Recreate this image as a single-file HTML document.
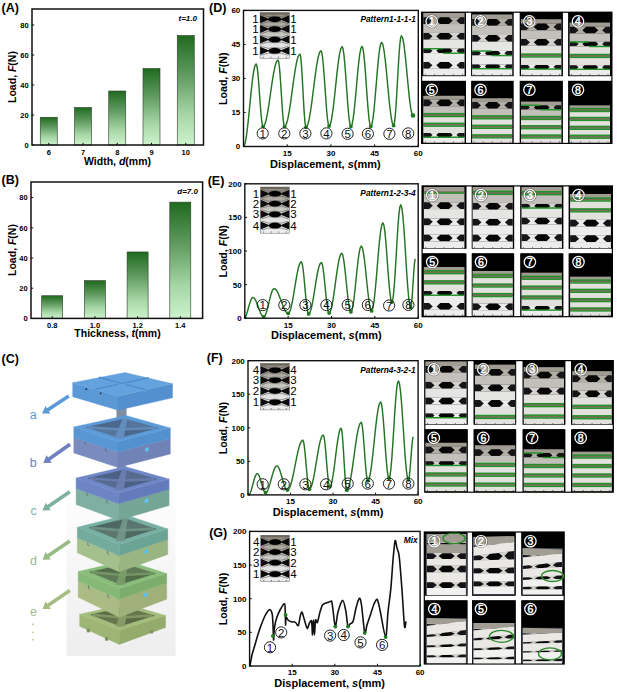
<!DOCTYPE html><html><head><meta charset="utf-8"><style>html,body{margin:0;padding:0;background:#fff;width:617px;height:692px;overflow:hidden}svg{display:block}</style></head><body><svg width="617" height="692" viewBox="0 0 617 692" font-family='"Liberation Sans", sans-serif'>
<defs>
<linearGradient id="bargrad" x1="0" y1="0" x2="0" y2="1">
<stop offset="0" stop-color="#1f6a1f"/><stop offset="0.35" stop-color="#5e995e"/><stop offset="0.72" stop-color="#a6d6a6"/><stop offset="1" stop-color="#cdf3cd"/>
</linearGradient>
<linearGradient id="cbg" x1="0" y1="0" x2="0" y2="1">
<stop offset="0" stop-color="#ffffff"/><stop offset="0.5" stop-color="#f6f6f6"/><stop offset="1" stop-color="#eeeeee"/>
</linearGradient>
</defs>
<rect x="0.00" y="0.00" width="617.00" height="692.00" fill="#fff" />
<rect x="40.25" y="117.25" width="17.00" height="27.75" fill="url(#bargrad)" stroke="#2b3a2b" stroke-width="0.6"/>
<rect x="74.50" y="107.50" width="17.00" height="37.50" fill="url(#bargrad)" stroke="#2b3a2b" stroke-width="0.6"/>
<rect x="108.75" y="91.00" width="17.00" height="54.00" fill="url(#bargrad)" stroke="#2b3a2b" stroke-width="0.6"/>
<rect x="143.00" y="68.50" width="17.00" height="76.50" fill="url(#bargrad)" stroke="#2b3a2b" stroke-width="0.6"/>
<rect x="177.25" y="35.50" width="17.00" height="109.50" fill="url(#bargrad)" stroke="#2b3a2b" stroke-width="0.6"/>
<rect x="32" y="9" width="171.5" height="136" fill="none" stroke="#111" stroke-width="1.5"/>
<line x1="32.00" y1="145.00" x2="34.20" y2="145.00" stroke="#111" stroke-width="1.0"/>
<text x="28.70" y="147.70" font-size="7.5" font-weight="bold" font-style="normal" text-anchor="end" fill="#000" >0</text>
<line x1="32.00" y1="115.00" x2="34.20" y2="115.00" stroke="#111" stroke-width="1.0"/>
<text x="28.70" y="117.70" font-size="7.5" font-weight="bold" font-style="normal" text-anchor="end" fill="#000" >20</text>
<line x1="32.00" y1="85.00" x2="34.20" y2="85.00" stroke="#111" stroke-width="1.0"/>
<text x="28.70" y="87.70" font-size="7.5" font-weight="bold" font-style="normal" text-anchor="end" fill="#000" >40</text>
<line x1="32.00" y1="55.00" x2="34.20" y2="55.00" stroke="#111" stroke-width="1.0"/>
<text x="28.70" y="57.70" font-size="7.5" font-weight="bold" font-style="normal" text-anchor="end" fill="#000" >60</text>
<line x1="32.00" y1="25.00" x2="34.20" y2="25.00" stroke="#111" stroke-width="1.0"/>
<text x="28.70" y="27.70" font-size="7.5" font-weight="bold" font-style="normal" text-anchor="end" fill="#000" >80</text>
<line x1="48.75" y1="145.00" x2="48.75" y2="142.80" stroke="#111" stroke-width="1.0"/>
<text x="48.75" y="154.50" font-size="7.5" font-weight="bold" font-style="normal" text-anchor="middle" fill="#000" >6</text>
<line x1="83.00" y1="145.00" x2="83.00" y2="142.80" stroke="#111" stroke-width="1.0"/>
<text x="83.00" y="154.50" font-size="7.5" font-weight="bold" font-style="normal" text-anchor="middle" fill="#000" >7</text>
<line x1="117.25" y1="145.00" x2="117.25" y2="142.80" stroke="#111" stroke-width="1.0"/>
<text x="117.25" y="154.50" font-size="7.5" font-weight="bold" font-style="normal" text-anchor="middle" fill="#000" >8</text>
<line x1="151.50" y1="145.00" x2="151.50" y2="142.80" stroke="#111" stroke-width="1.0"/>
<text x="151.50" y="154.50" font-size="7.5" font-weight="bold" font-style="normal" text-anchor="middle" fill="#000" >9</text>
<line x1="185.75" y1="145.00" x2="185.75" y2="142.80" stroke="#111" stroke-width="1.0"/>
<text x="185.75" y="154.50" font-size="7.5" font-weight="bold" font-style="normal" text-anchor="middle" fill="#000" >10</text>
<text x="117.50" y="165.00" font-size="10.5" font-weight="bold" font-style="normal" text-anchor="middle" fill="#000" >Width, <tspan font-style="italic">d</tspan>(mm)</text>
<text transform="translate(16.3,77) rotate(-90)" font-size="10.5" font-weight="bold" text-anchor="middle">Load, <tspan font-style="italic">F</tspan>(N)</text>
<text x="197.00" y="20.50" font-size="8" font-weight="bold" font-style="italic" text-anchor="end" fill="#000" >t=1.0</text>
<text x="1.50" y="11.70" font-size="12.5" font-weight="bold" font-style="normal" text-anchor="start" fill="#000" >(A)</text>
<rect x="41.70" y="295.75" width="21.00" height="22.65" fill="url(#bargrad)" stroke="#2b3a2b" stroke-width="0.6"/>
<rect x="84.40" y="280.65" width="21.00" height="37.75" fill="url(#bargrad)" stroke="#2b3a2b" stroke-width="0.6"/>
<rect x="127.10" y="251.96" width="21.00" height="66.44" fill="url(#bargrad)" stroke="#2b3a2b" stroke-width="0.6"/>
<rect x="169.80" y="202.13" width="21.00" height="116.27" fill="url(#bargrad)" stroke="#2b3a2b" stroke-width="0.6"/>
<rect x="31" y="182" width="171.6" height="136.39999999999998" fill="none" stroke="#111" stroke-width="1.5"/>
<line x1="31.00" y1="318.40" x2="33.20" y2="318.40" stroke="#111" stroke-width="1.0"/>
<text x="27.70" y="321.10" font-size="7.5" font-weight="bold" font-style="normal" text-anchor="end" fill="#000" >0</text>
<line x1="31.00" y1="288.20" x2="33.20" y2="288.20" stroke="#111" stroke-width="1.0"/>
<text x="27.70" y="290.90" font-size="7.5" font-weight="bold" font-style="normal" text-anchor="end" fill="#000" >20</text>
<line x1="31.00" y1="258.00" x2="33.20" y2="258.00" stroke="#111" stroke-width="1.0"/>
<text x="27.70" y="260.70" font-size="7.5" font-weight="bold" font-style="normal" text-anchor="end" fill="#000" >40</text>
<line x1="31.00" y1="227.80" x2="33.20" y2="227.80" stroke="#111" stroke-width="1.0"/>
<text x="27.70" y="230.50" font-size="7.5" font-weight="bold" font-style="normal" text-anchor="end" fill="#000" >60</text>
<line x1="31.00" y1="197.60" x2="33.20" y2="197.60" stroke="#111" stroke-width="1.0"/>
<text x="27.70" y="200.30" font-size="7.5" font-weight="bold" font-style="normal" text-anchor="end" fill="#000" >80</text>
<line x1="52.20" y1="318.40" x2="52.20" y2="316.20" stroke="#111" stroke-width="1.0"/>
<text x="52.20" y="328.00" font-size="7.5" font-weight="bold" font-style="normal" text-anchor="middle" fill="#000" >0.8</text>
<line x1="94.90" y1="318.40" x2="94.90" y2="316.20" stroke="#111" stroke-width="1.0"/>
<text x="94.90" y="328.00" font-size="7.5" font-weight="bold" font-style="normal" text-anchor="middle" fill="#000" >1.0</text>
<line x1="137.60" y1="318.40" x2="137.60" y2="316.20" stroke="#111" stroke-width="1.0"/>
<text x="137.60" y="328.00" font-size="7.5" font-weight="bold" font-style="normal" text-anchor="middle" fill="#000" >1.2</text>
<line x1="180.30" y1="318.40" x2="180.30" y2="316.20" stroke="#111" stroke-width="1.0"/>
<text x="180.30" y="328.00" font-size="7.5" font-weight="bold" font-style="normal" text-anchor="middle" fill="#000" >1.4</text>
<text x="117.50" y="336.80" font-size="10.5" font-weight="bold" font-style="normal" text-anchor="middle" fill="#000" >Thickness, <tspan font-style="italic">t</tspan>(mm)</text>
<text transform="translate(16.3,250) rotate(-90)" font-size="10.5" font-weight="bold" text-anchor="middle">Load, <tspan font-style="italic">F</tspan>(N)</text>
<text x="198.00" y="194.00" font-size="8" font-weight="bold" font-style="italic" text-anchor="end" fill="#000" >d=7.0</text>
<text x="1.50" y="184.40" font-size="12.5" font-weight="bold" font-style="normal" text-anchor="start" fill="#000" >(B)</text>
<path d="M243.50,146.50 L244.76,144.48 L246.02,138.61 L247.28,129.48 L248.54,117.96 L249.80,105.20 L251.06,92.44 L252.32,80.92 L253.58,71.79 L254.84,65.92 L256.10,63.90 L256.80,65.43 L257.50,69.89 L258.20,76.82 L258.90,85.56 L259.60,95.25 L260.30,104.94 L261.00,113.68 L261.70,120.61 L262.40,125.07 L263.10,126.60 L264.59,124.97 L266.08,120.23 L267.57,112.85 L269.06,103.56 L270.55,93.25 L272.04,82.94 L273.53,73.65 L275.02,66.27 L276.51,61.53 L278.00,59.90 L278.66,61.53 L279.32,66.27 L279.98,73.65 L280.64,82.94 L281.30,93.25 L281.96,103.56 L282.62,112.85 L283.28,120.23 L283.94,124.97 L284.60,126.60 L286.13,124.83 L287.66,119.68 L289.19,111.66 L290.72,101.55 L292.25,90.35 L293.78,79.15 L295.31,69.04 L296.84,61.02 L298.37,55.87 L299.90,54.10 L300.51,55.89 L301.12,61.09 L301.73,69.19 L302.34,79.39 L302.95,90.70 L303.56,102.01 L304.17,112.21 L304.78,120.31 L305.39,125.51 L306.00,127.30 L307.50,125.43 L309.00,119.99 L310.50,111.51 L312.00,100.84 L313.50,89.00 L315.00,77.16 L316.50,66.49 L318.00,58.01 L319.50,52.57 L321.00,50.70 L321.81,52.55 L322.62,57.90 L323.43,66.24 L324.24,76.75 L325.05,88.40 L325.86,100.05 L326.67,110.56 L327.48,118.90 L328.29,124.25 L329.10,126.10 L330.40,124.15 L331.70,118.51 L333.00,109.71 L334.30,98.63 L335.60,86.35 L336.90,74.07 L338.20,62.99 L339.50,54.19 L340.80,48.55 L342.10,46.60 L342.98,48.56 L343.86,54.24 L344.74,63.09 L345.62,74.24 L346.50,86.60 L347.38,98.96 L348.26,110.11 L349.14,118.96 L350.02,124.64 L350.90,126.60 L352.01,124.63 L353.12,118.93 L354.23,110.05 L355.34,98.86 L356.45,86.45 L357.56,74.04 L358.67,62.85 L359.78,53.97 L360.89,48.27 L362.00,46.30 L362.88,48.27 L363.76,53.97 L364.64,62.85 L365.52,74.04 L366.40,86.45 L367.28,98.86 L368.16,110.05 L369.04,118.93 L369.92,124.63 L370.80,126.60 L371.88,124.54 L372.96,118.56 L374.04,109.25 L375.12,97.51 L376.20,84.50 L377.28,71.49 L378.36,59.75 L379.44,50.44 L380.52,44.46 L381.60,42.40 L382.80,44.43 L384.00,50.34 L385.20,59.53 L386.40,71.11 L387.60,83.95 L388.80,96.79 L390.00,108.37 L391.20,117.56 L392.40,123.47 L393.60,125.50 L394.38,123.30 L395.16,116.93 L395.94,107.01 L396.72,94.51 L397.50,80.65 L398.28,66.79 L399.06,54.29 L399.84,44.37 L400.62,38.00 L401.40,35.80 L402.56,37.75 L403.72,43.41 L404.88,52.23 L406.04,63.34 L407.20,75.65 L408.36,87.96 L409.52,99.07 L410.68,107.89 L411.84,113.55 L413.00,115.50" fill="none" stroke="#237523" stroke-width="1.45" stroke-linejoin="round"/>
<circle cx="263.10" cy="126.60" r="1.9" fill="#1f7a1f"/>
<circle cx="284.60" cy="126.60" r="1.9" fill="#1f7a1f"/>
<circle cx="306.00" cy="127.30" r="1.9" fill="#1f7a1f"/>
<circle cx="329.10" cy="126.10" r="1.9" fill="#1f7a1f"/>
<circle cx="350.90" cy="126.60" r="1.9" fill="#1f7a1f"/>
<circle cx="370.80" cy="126.60" r="1.9" fill="#1f7a1f"/>
<circle cx="393.60" cy="125.50" r="1.9" fill="#1f7a1f"/>
<circle cx="413.00" cy="115.50" r="2.3" fill="#1f7a1f"/>
<circle cx="262.70" cy="133.40" r="5.6" fill="none" stroke="#222" stroke-width="1.0"/>
<text x="262.70" y="137.60" font-size="11.5" font-weight="normal" font-style="normal" text-anchor="middle" fill="#111" >1</text>
<circle cx="284.30" cy="133.40" r="5.6" fill="none" stroke="#222" stroke-width="1.0"/>
<text x="284.30" y="137.60" font-size="11.5" font-weight="normal" font-style="normal" text-anchor="middle" fill="#111" >2</text>
<circle cx="305.40" cy="133.40" r="5.6" fill="none" stroke="#222" stroke-width="1.0"/>
<text x="305.40" y="137.60" font-size="11.5" font-weight="normal" font-style="normal" text-anchor="middle" fill="#111" >3</text>
<circle cx="326.40" cy="133.40" r="5.6" fill="none" stroke="#222" stroke-width="1.0"/>
<text x="326.40" y="137.60" font-size="11.5" font-weight="normal" font-style="normal" text-anchor="middle" fill="#111" >4</text>
<circle cx="347.60" cy="133.80" r="5.6" fill="none" stroke="#222" stroke-width="1.0"/>
<text x="347.60" y="138.00" font-size="11.5" font-weight="normal" font-style="normal" text-anchor="middle" fill="#111" >5</text>
<circle cx="367.90" cy="133.80" r="5.6" fill="none" stroke="#222" stroke-width="1.0"/>
<text x="367.90" y="138.00" font-size="11.5" font-weight="normal" font-style="normal" text-anchor="middle" fill="#111" >6</text>
<circle cx="389.40" cy="133.80" r="5.6" fill="none" stroke="#222" stroke-width="1.0"/>
<text x="389.40" y="138.00" font-size="11.5" font-weight="normal" font-style="normal" text-anchor="middle" fill="#111" >7</text>
<circle cx="408.20" cy="133.40" r="5.6" fill="none" stroke="#222" stroke-width="1.0"/>
<text x="408.20" y="137.60" font-size="11.5" font-weight="normal" font-style="normal" text-anchor="middle" fill="#111" >8</text>
<rect x="243.5" y="10.4" width="174.8" height="136.1" fill="none" stroke="#111" stroke-width="1.4"/>
<line x1="243.50" y1="146.50" x2="245.70" y2="146.50" stroke="#111" stroke-width="1.0"/>
<text x="240.30" y="149.40" font-size="8" font-weight="bold" font-style="normal" text-anchor="end" fill="#000" >0</text>
<line x1="243.50" y1="112.47" x2="245.70" y2="112.47" stroke="#111" stroke-width="1.0"/>
<text x="240.30" y="115.38" font-size="8" font-weight="bold" font-style="normal" text-anchor="end" fill="#000" >15</text>
<line x1="243.50" y1="78.45" x2="245.70" y2="78.45" stroke="#111" stroke-width="1.0"/>
<text x="240.30" y="81.35" font-size="8" font-weight="bold" font-style="normal" text-anchor="end" fill="#000" >30</text>
<line x1="243.50" y1="44.43" x2="245.70" y2="44.43" stroke="#111" stroke-width="1.0"/>
<text x="240.30" y="47.33" font-size="8" font-weight="bold" font-style="normal" text-anchor="end" fill="#000" >45</text>
<line x1="243.50" y1="10.40" x2="245.70" y2="10.40" stroke="#111" stroke-width="1.0"/>
<text x="240.30" y="13.30" font-size="8" font-weight="bold" font-style="normal" text-anchor="end" fill="#000" >60</text>
<line x1="243.50" y1="146.50" x2="243.50" y2="144.30" stroke="#111" stroke-width="1.0"/>
<line x1="287.20" y1="146.50" x2="287.20" y2="144.30" stroke="#111" stroke-width="1.0"/>
<text x="287.20" y="155.80" font-size="8" font-weight="bold" font-style="normal" text-anchor="middle" fill="#000" >15</text>
<line x1="330.90" y1="146.50" x2="330.90" y2="144.30" stroke="#111" stroke-width="1.0"/>
<text x="330.90" y="155.80" font-size="8" font-weight="bold" font-style="normal" text-anchor="middle" fill="#000" >30</text>
<line x1="374.60" y1="146.50" x2="374.60" y2="144.30" stroke="#111" stroke-width="1.0"/>
<text x="374.60" y="155.80" font-size="8" font-weight="bold" font-style="normal" text-anchor="middle" fill="#000" >45</text>
<line x1="418.30" y1="146.50" x2="418.30" y2="144.30" stroke="#111" stroke-width="1.0"/>
<text x="418.30" y="155.80" font-size="8" font-weight="bold" font-style="normal" text-anchor="middle" fill="#000" >60</text>
<text x="325.40" y="167.60" font-size="11" font-weight="bold" font-style="normal" text-anchor="middle" fill="#000" >Displacement, <tspan font-style="italic">s</tspan>(mm)</text>
<text transform="translate(226.5,78.75) rotate(-90)" font-size="10.6" font-weight="bold" text-anchor="middle">Load, <tspan font-style="italic">F</tspan>(N)</text>
<text x="415.80" y="22.20" font-size="8.3" font-weight="bold" font-style="italic" text-anchor="end" fill="#000" >Pattern1-1-1-1</text>
<text x="209.00" y="11.70" font-size="12.5" font-weight="bold" font-style="normal" text-anchor="start" fill="#000" >(D)</text>
<defs><linearGradient id="ig12" x1="0" y1="0" x2="0" y2="1"><stop offset="0" stop-color="#8e887c"/><stop offset="0.35" stop-color="#b9b6ae"/><stop offset="0.7" stop-color="#e2e2e2"/><stop offset="1" stop-color="#efefef"/></linearGradient></defs>
<rect x="260.10" y="12.60" width="29.20" height="45.70" fill="url(#ig12)" stroke="#666" stroke-width="0.5"/>
<rect x="260.10" y="12.60" width="29.20" height="2.00" fill="#6e685c" />
<polygon points="260.10,15.23 269.60,19.23 260.10,23.23" fill="#0a0a0a" />
<polygon points="289.30,15.23 279.80,19.23 289.30,23.23" fill="#0a0a0a" />
<ellipse cx="274.70" cy="19.23" rx="6.42" ry="3.0" fill="#000"/>
<path d="M261.10,14.73 Q268.28,18.23 274.70,16.03 Q281.12,18.23 288.30,14.73 M261.10,23.73 Q268.28,20.23 274.70,22.43 Q281.12,20.23 288.30,23.73" stroke="#555" stroke-width="0.6" fill="none"/>
<polygon points="260.10,25.05 269.60,29.05 260.10,33.05" fill="#0a0a0a" />
<polygon points="289.30,25.05 279.80,29.05 289.30,33.05" fill="#0a0a0a" />
<ellipse cx="274.70" cy="29.05" rx="6.42" ry="3.0" fill="#000"/>
<path d="M261.10,24.55 Q268.28,28.05 274.70,25.85 Q281.12,28.05 288.30,24.55 M261.10,33.55 Q268.28,30.05 274.70,32.25 Q281.12,30.05 288.30,33.55" stroke="#555" stroke-width="0.6" fill="none"/>
<polygon points="260.10,35.56 269.60,39.56 260.10,43.56" fill="#0a0a0a" />
<polygon points="289.30,35.56 279.80,39.56 289.30,43.56" fill="#0a0a0a" />
<ellipse cx="274.70" cy="39.56" rx="6.42" ry="3.0" fill="#000"/>
<path d="M261.10,35.06 Q268.28,38.56 274.70,36.36 Q281.12,38.56 288.30,35.06 M261.10,44.06 Q268.28,40.56 274.70,42.76 Q281.12,40.56 288.30,44.06" stroke="#555" stroke-width="0.6" fill="none"/>
<polygon points="260.10,46.76 269.60,50.76 260.10,54.76" fill="#0a0a0a" />
<polygon points="289.30,46.76 279.80,50.76 289.30,54.76" fill="#0a0a0a" />
<ellipse cx="274.70" cy="50.76" rx="6.42" ry="3.0" fill="#000"/>
<path d="M261.10,46.26 Q268.28,49.76 274.70,47.56 Q281.12,49.76 288.30,46.26 M261.10,55.26 Q268.28,51.76 274.70,53.96 Q281.12,51.76 288.30,55.26" stroke="#555" stroke-width="0.6" fill="none"/>
<rect x="262.60" y="56.70" width="1.00" height="1.00" fill="#555" />
<rect x="270.33" y="56.70" width="1.00" height="1.00" fill="#555" />
<rect x="278.07" y="56.70" width="1.00" height="1.00" fill="#555" />
<rect x="285.80" y="56.70" width="1.00" height="1.00" fill="#555" />
<text x="258.70" y="23.33" font-size="11.5" font-weight="normal" font-style="normal" text-anchor="end" fill="#000" >1</text>
<text x="290.30" y="23.33" font-size="11.5" font-weight="normal" font-style="normal" text-anchor="start" fill="#000" >1</text>
<text x="258.70" y="33.15" font-size="11.5" font-weight="normal" font-style="normal" text-anchor="end" fill="#000" >1</text>
<text x="290.30" y="33.15" font-size="11.5" font-weight="normal" font-style="normal" text-anchor="start" fill="#000" >1</text>
<text x="258.70" y="43.66" font-size="11.5" font-weight="normal" font-style="normal" text-anchor="end" fill="#000" >1</text>
<text x="290.30" y="43.66" font-size="11.5" font-weight="normal" font-style="normal" text-anchor="start" fill="#000" >1</text>
<text x="258.70" y="54.86" font-size="11.5" font-weight="normal" font-style="normal" text-anchor="end" fill="#000" >1</text>
<text x="290.30" y="54.86" font-size="11.5" font-weight="normal" font-style="normal" text-anchor="start" fill="#000" >1</text>
<path d="M244.00,318.20 L244.89,317.69 L245.78,316.21 L246.67,313.91 L247.56,311.01 L248.45,307.80 L249.34,304.59 L250.23,301.69 L251.12,299.39 L252.01,297.91 L252.90,297.40 L253.98,297.87 L255.06,299.25 L256.14,301.40 L257.22,304.10 L258.30,307.10 L259.38,310.10 L260.46,312.80 L261.54,314.95 L262.62,316.33 L263.70,316.80 L264.74,316.11 L265.78,314.11 L266.82,310.99 L267.86,307.06 L268.90,302.70 L269.94,298.34 L270.98,294.41 L272.02,291.29 L273.06,289.29 L274.10,288.60 L275.51,289.21 L276.92,290.97 L278.33,293.71 L279.74,297.17 L281.15,301.00 L282.56,304.83 L283.97,308.29 L285.38,311.03 L286.79,312.79 L288.20,313.40 L289.51,312.14 L290.82,308.47 L292.13,302.76 L293.44,295.57 L294.75,287.60 L296.06,279.63 L297.37,272.44 L298.68,266.73 L299.99,263.06 L301.30,261.80 L302.03,263.07 L302.76,266.78 L303.49,272.54 L304.22,279.80 L304.95,287.85 L305.68,295.90 L306.41,303.16 L307.14,308.92 L307.87,312.63 L308.60,313.90 L309.87,312.64 L311.14,308.98 L312.41,303.29 L313.68,296.11 L314.95,288.15 L316.22,280.19 L317.49,273.01 L318.76,267.32 L320.03,263.66 L321.30,262.40 L322.08,263.64 L322.86,267.24 L323.64,272.85 L324.42,279.92 L325.20,287.75 L325.98,295.58 L326.76,302.65 L327.54,308.26 L328.32,311.86 L329.10,313.10 L330.36,311.63 L331.62,307.38 L332.88,300.75 L334.14,292.41 L335.40,283.15 L336.66,273.89 L337.92,265.55 L339.18,258.92 L340.44,254.67 L341.70,253.20 L342.62,254.64 L343.54,258.81 L344.46,265.30 L345.38,273.48 L346.30,282.55 L347.22,291.62 L348.14,299.80 L349.06,306.29 L349.98,310.46 L350.90,311.90 L351.94,310.29 L352.98,305.62 L354.02,298.34 L355.06,289.17 L356.10,279.00 L357.14,268.83 L358.18,259.66 L359.22,252.38 L360.26,247.71 L361.30,246.10 L362.33,247.69 L363.36,252.29 L364.39,259.46 L365.42,268.49 L366.45,278.50 L367.48,288.51 L368.51,297.54 L369.54,304.71 L370.57,309.31 L371.60,310.90 L372.73,308.74 L373.86,302.49 L374.99,292.74 L376.12,280.46 L377.25,266.85 L378.38,253.24 L379.51,240.96 L380.64,231.21 L381.77,224.96 L382.90,222.80 L383.80,224.74 L384.70,230.37 L385.60,239.14 L386.50,250.20 L387.40,262.45 L388.30,274.70 L389.20,285.76 L390.10,294.53 L391.00,300.16 L391.90,302.10 L392.78,299.72 L393.66,292.81 L394.54,282.05 L395.42,268.48 L396.30,253.45 L397.18,238.42 L398.06,224.85 L398.94,214.09 L399.82,207.18 L400.70,204.80 L401.70,207.32 L402.70,214.63 L403.70,226.01 L404.70,240.35 L405.70,256.25 L406.70,272.15 L407.70,286.49 L408.70,297.87 L409.70,305.18 L410.70,307.70 L411.17,306.51 L411.64,303.04 L412.11,297.64 L412.58,290.84 L413.05,283.30 L413.52,275.76 L413.99,268.96 L414.46,263.56 L414.93,260.09 L415.40,258.90" fill="none" stroke="#237523" stroke-width="1.45" stroke-linejoin="round"/>
<circle cx="263.70" cy="316.80" r="1.9" fill="#1f7a1f"/>
<circle cx="288.20" cy="313.40" r="1.9" fill="#1f7a1f"/>
<circle cx="308.60" cy="313.90" r="1.9" fill="#1f7a1f"/>
<circle cx="329.10" cy="313.10" r="1.9" fill="#1f7a1f"/>
<circle cx="350.90" cy="311.90" r="1.9" fill="#1f7a1f"/>
<circle cx="371.60" cy="310.90" r="1.9" fill="#1f7a1f"/>
<circle cx="391.90" cy="302.10" r="1.9" fill="#1f7a1f"/>
<circle cx="410.70" cy="307.70" r="1.9" fill="#1f7a1f"/>
<circle cx="262.70" cy="305.10" r="5.6" fill="none" stroke="#222" stroke-width="1.0"/>
<text x="262.70" y="309.30" font-size="11.5" font-weight="normal" font-style="normal" text-anchor="middle" fill="#111" >1</text>
<circle cx="284.30" cy="305.10" r="5.6" fill="none" stroke="#222" stroke-width="1.0"/>
<text x="284.30" y="309.30" font-size="11.5" font-weight="normal" font-style="normal" text-anchor="middle" fill="#111" >2</text>
<circle cx="305.40" cy="305.10" r="5.6" fill="none" stroke="#222" stroke-width="1.0"/>
<text x="305.40" y="309.30" font-size="11.5" font-weight="normal" font-style="normal" text-anchor="middle" fill="#111" >3</text>
<circle cx="326.40" cy="305.10" r="5.6" fill="none" stroke="#222" stroke-width="1.0"/>
<text x="326.40" y="309.30" font-size="11.5" font-weight="normal" font-style="normal" text-anchor="middle" fill="#111" >4</text>
<circle cx="347.70" cy="304.90" r="5.6" fill="none" stroke="#222" stroke-width="1.0"/>
<text x="347.70" y="309.10" font-size="11.5" font-weight="normal" font-style="normal" text-anchor="middle" fill="#111" >5</text>
<circle cx="367.80" cy="304.90" r="5.6" fill="none" stroke="#222" stroke-width="1.0"/>
<text x="367.80" y="309.10" font-size="11.5" font-weight="normal" font-style="normal" text-anchor="middle" fill="#111" >6</text>
<circle cx="389.10" cy="305.50" r="5.6" fill="none" stroke="#222" stroke-width="1.0"/>
<text x="389.10" y="309.70" font-size="11.5" font-weight="normal" font-style="normal" text-anchor="middle" fill="#111" >7</text>
<circle cx="408.40" cy="304.90" r="5.6" fill="none" stroke="#222" stroke-width="1.0"/>
<text x="408.40" y="309.10" font-size="11.5" font-weight="normal" font-style="normal" text-anchor="middle" fill="#111" >8</text>
<rect x="244.8" y="183.8" width="173.39999999999998" height="134.39999999999998" fill="none" stroke="#111" stroke-width="1.4"/>
<line x1="244.80" y1="318.20" x2="247.00" y2="318.20" stroke="#111" stroke-width="1.0"/>
<text x="241.60" y="321.10" font-size="8" font-weight="bold" font-style="normal" text-anchor="end" fill="#000" >0</text>
<line x1="244.80" y1="284.60" x2="247.00" y2="284.60" stroke="#111" stroke-width="1.0"/>
<text x="241.60" y="287.50" font-size="8" font-weight="bold" font-style="normal" text-anchor="end" fill="#000" >50</text>
<line x1="244.80" y1="251.00" x2="247.00" y2="251.00" stroke="#111" stroke-width="1.0"/>
<text x="241.60" y="253.90" font-size="8" font-weight="bold" font-style="normal" text-anchor="end" fill="#000" >100</text>
<line x1="244.80" y1="217.40" x2="247.00" y2="217.40" stroke="#111" stroke-width="1.0"/>
<text x="241.60" y="220.30" font-size="8" font-weight="bold" font-style="normal" text-anchor="end" fill="#000" >150</text>
<line x1="244.80" y1="183.80" x2="247.00" y2="183.80" stroke="#111" stroke-width="1.0"/>
<text x="241.60" y="186.70" font-size="8" font-weight="bold" font-style="normal" text-anchor="end" fill="#000" >200</text>
<line x1="244.80" y1="318.20" x2="244.80" y2="316.00" stroke="#111" stroke-width="1.0"/>
<line x1="288.15" y1="318.20" x2="288.15" y2="316.00" stroke="#111" stroke-width="1.0"/>
<text x="288.15" y="327.50" font-size="8" font-weight="bold" font-style="normal" text-anchor="middle" fill="#000" >15</text>
<line x1="331.50" y1="318.20" x2="331.50" y2="316.00" stroke="#111" stroke-width="1.0"/>
<text x="331.50" y="327.50" font-size="8" font-weight="bold" font-style="normal" text-anchor="middle" fill="#000" >30</text>
<line x1="374.85" y1="318.20" x2="374.85" y2="316.00" stroke="#111" stroke-width="1.0"/>
<text x="374.85" y="327.50" font-size="8" font-weight="bold" font-style="normal" text-anchor="middle" fill="#000" >45</text>
<line x1="418.20" y1="318.20" x2="418.20" y2="316.00" stroke="#111" stroke-width="1.0"/>
<text x="418.20" y="327.50" font-size="8" font-weight="bold" font-style="normal" text-anchor="middle" fill="#000" >60</text>
<text x="326.30" y="339.30" font-size="11" font-weight="bold" font-style="normal" text-anchor="middle" fill="#000" >Displacement, <tspan font-style="italic">s</tspan>(mm)</text>
<text transform="translate(226.5,251.3) rotate(-90)" font-size="10.6" font-weight="bold" text-anchor="middle">Load, <tspan font-style="italic">F</tspan>(N)</text>
<text x="415.70" y="195.60" font-size="8.3" font-weight="bold" font-style="italic" text-anchor="end" fill="#000" >Pattern1-2-3-4</text>
<text x="207.70" y="184.90" font-size="12.5" font-weight="bold" font-style="normal" text-anchor="start" fill="#000" >(E)</text>
<defs><linearGradient id="ig187" x1="0" y1="0" x2="0" y2="1"><stop offset="0" stop-color="#8e887c"/><stop offset="0.35" stop-color="#b9b6ae"/><stop offset="0.7" stop-color="#e2e2e2"/><stop offset="1" stop-color="#efefef"/></linearGradient></defs>
<rect x="260.60" y="187.00" width="28.70" height="46.20" fill="url(#ig187)" stroke="#666" stroke-width="0.5"/>
<rect x="260.60" y="187.00" width="28.70" height="2.00" fill="#6e685c" />
<polygon points="260.60,189.70 270.10,193.70 260.60,197.70" fill="#0a0a0a" />
<polygon points="289.30,189.70 279.80,193.70 289.30,197.70" fill="#0a0a0a" />
<ellipse cx="274.95" cy="193.70" rx="6.31" ry="3.0" fill="#000"/>
<path d="M261.60,189.20 Q268.64,192.70 274.95,190.50 Q281.26,192.70 288.30,189.20 M261.60,198.20 Q268.64,194.70 274.95,196.90 Q281.26,194.70 288.30,198.20" stroke="#555" stroke-width="0.6" fill="none"/>
<polygon points="260.60,199.63 270.10,203.63 260.60,207.63" fill="#0a0a0a" />
<polygon points="289.30,199.63 279.80,203.63 289.30,207.63" fill="#0a0a0a" />
<ellipse cx="274.95" cy="203.63" rx="6.31" ry="3.0" fill="#000"/>
<path d="M261.60,199.13 Q268.64,202.63 274.95,200.43 Q281.26,202.63 288.30,199.13 M261.60,208.13 Q268.64,204.63 274.95,206.83 Q281.26,204.63 288.30,208.13" stroke="#555" stroke-width="0.6" fill="none"/>
<polygon points="260.60,210.26 270.10,214.26 260.60,218.26" fill="#0a0a0a" />
<polygon points="289.30,210.26 279.80,214.26 289.30,218.26" fill="#0a0a0a" />
<ellipse cx="274.95" cy="214.26" rx="6.31" ry="3.0" fill="#000"/>
<path d="M261.60,209.76 Q268.64,213.26 274.95,211.06 Q281.26,213.26 288.30,209.76 M261.60,218.76 Q268.64,215.26 274.95,217.46 Q281.26,215.26 288.30,218.76" stroke="#555" stroke-width="0.6" fill="none"/>
<polygon points="260.60,221.58 270.10,225.58 260.60,229.58" fill="#0a0a0a" />
<polygon points="289.30,221.58 279.80,225.58 289.30,229.58" fill="#0a0a0a" />
<ellipse cx="274.95" cy="225.58" rx="6.31" ry="3.0" fill="#000"/>
<path d="M261.60,221.08 Q268.64,224.58 274.95,222.38 Q281.26,224.58 288.30,221.08 M261.60,230.08 Q268.64,226.58 274.95,228.78 Q281.26,226.58 288.30,230.08" stroke="#555" stroke-width="0.6" fill="none"/>
<rect x="263.10" y="231.60" width="1.00" height="1.00" fill="#555" />
<rect x="270.67" y="231.60" width="1.00" height="1.00" fill="#555" />
<rect x="278.23" y="231.60" width="1.00" height="1.00" fill="#555" />
<rect x="285.80" y="231.60" width="1.00" height="1.00" fill="#555" />
<text x="259.20" y="197.80" font-size="11.5" font-weight="normal" font-style="normal" text-anchor="end" fill="#000" >1</text>
<text x="290.30" y="197.80" font-size="11.5" font-weight="normal" font-style="normal" text-anchor="start" fill="#000" >1</text>
<text x="259.20" y="207.73" font-size="11.5" font-weight="normal" font-style="normal" text-anchor="end" fill="#000" >2</text>
<text x="290.30" y="207.73" font-size="11.5" font-weight="normal" font-style="normal" text-anchor="start" fill="#000" >2</text>
<text x="259.20" y="218.36" font-size="11.5" font-weight="normal" font-style="normal" text-anchor="end" fill="#000" >3</text>
<text x="290.30" y="218.36" font-size="11.5" font-weight="normal" font-style="normal" text-anchor="start" fill="#000" >3</text>
<text x="259.20" y="229.68" font-size="11.5" font-weight="normal" font-style="normal" text-anchor="end" fill="#000" >4</text>
<text x="290.30" y="229.68" font-size="11.5" font-weight="normal" font-style="normal" text-anchor="start" fill="#000" >4</text>
<path d="M248.50,494.80 L249.38,494.28 L250.26,492.79 L251.14,490.45 L252.02,487.51 L252.90,484.25 L253.78,480.99 L254.66,478.05 L255.54,475.71 L256.42,474.22 L257.30,473.70 L258.13,474.16 L258.96,475.50 L259.79,477.60 L260.62,480.23 L261.45,483.15 L262.28,486.07 L263.11,488.70 L263.94,490.80 L264.77,492.14 L265.60,492.60 L266.72,491.95 L267.84,490.05 L268.96,487.10 L270.08,483.38 L271.20,479.25 L272.32,475.12 L273.44,471.40 L274.56,468.45 L275.68,466.55 L276.80,465.90 L277.87,466.49 L278.94,468.21 L280.01,470.89 L281.08,474.26 L282.15,478.00 L283.22,481.74 L284.29,485.11 L285.36,487.79 L286.43,489.51 L287.50,490.10 L289.03,488.88 L290.56,485.33 L292.09,479.79 L293.62,472.83 L295.15,465.10 L296.68,457.37 L298.21,450.41 L299.74,444.87 L301.27,441.32 L302.80,440.10 L303.46,441.30 L304.12,444.80 L304.78,450.24 L305.44,457.10 L306.10,464.70 L306.76,472.30 L307.42,479.16 L308.08,484.60 L308.74,488.10 L309.40,489.30 L310.78,487.97 L312.16,484.11 L313.54,478.11 L314.92,470.54 L316.30,462.15 L317.68,453.76 L319.06,446.19 L320.44,440.19 L321.82,436.33 L323.20,435.00 L323.86,436.27 L324.52,439.95 L325.18,445.68 L325.84,452.90 L326.50,460.90 L327.16,468.90 L327.82,476.12 L328.48,481.85 L329.14,485.53 L329.80,486.80 L330.93,485.37 L332.06,481.20 L333.19,474.72 L334.32,466.55 L335.45,457.50 L336.58,448.45 L337.71,440.28 L338.84,433.80 L339.97,429.63 L341.10,428.20 L341.67,429.72 L342.24,434.12 L342.81,440.98 L343.38,449.62 L343.95,459.20 L344.52,468.78 L345.09,477.42 L345.66,484.28 L346.23,488.68 L346.80,490.20 L348.24,488.54 L349.68,483.71 L351.12,476.18 L352.56,466.71 L354.00,456.20 L355.44,445.69 L356.88,436.22 L358.32,428.69 L359.76,423.86 L361.20,422.20 L361.86,423.63 L362.52,427.80 L363.18,434.28 L363.84,442.45 L364.50,451.50 L365.16,460.55 L365.82,468.72 L366.48,475.20 L367.14,479.37 L367.80,480.80 L369.08,478.87 L370.36,473.27 L371.64,464.54 L372.92,453.54 L374.20,441.35 L375.48,429.16 L376.76,418.16 L378.04,409.43 L379.32,403.83 L380.60,401.90 L381.44,403.77 L382.28,409.21 L383.12,417.69 L383.96,428.36 L384.80,440.20 L385.64,452.04 L386.48,462.71 L387.32,471.19 L388.16,476.63 L389.00,478.50 L389.94,476.11 L390.88,469.18 L391.82,458.38 L392.76,444.78 L393.70,429.70 L394.64,414.62 L395.58,401.02 L396.52,390.22 L397.46,383.29 L398.40,380.90 L399.40,383.32 L400.40,390.34 L401.40,401.28 L402.40,415.07 L403.40,430.35 L404.40,445.63 L405.40,459.42 L406.40,470.36 L407.40,477.38 L408.40,479.80 L408.90,478.75 L409.40,475.68 L409.90,470.92 L410.40,464.91 L410.90,458.25 L411.40,451.59 L411.90,445.58 L412.40,440.82 L412.90,437.75 L413.40,436.70" fill="none" stroke="#237523" stroke-width="1.45" stroke-linejoin="round"/>
<circle cx="265.60" cy="492.60" r="1.9" fill="#1f7a1f"/>
<circle cx="287.50" cy="490.10" r="1.9" fill="#1f7a1f"/>
<circle cx="309.40" cy="489.30" r="1.9" fill="#1f7a1f"/>
<circle cx="329.80" cy="486.80" r="1.9" fill="#1f7a1f"/>
<circle cx="346.80" cy="490.20" r="1.9" fill="#1f7a1f"/>
<circle cx="367.80" cy="480.80" r="1.9" fill="#1f7a1f"/>
<circle cx="389.00" cy="478.50" r="1.9" fill="#1f7a1f"/>
<circle cx="408.40" cy="479.80" r="1.9" fill="#1f7a1f"/>
<circle cx="262.70" cy="484.30" r="5.6" fill="none" stroke="#222" stroke-width="1.0"/>
<text x="262.70" y="488.50" font-size="11.5" font-weight="normal" font-style="normal" text-anchor="middle" fill="#111" >1</text>
<circle cx="283.80" cy="484.30" r="5.6" fill="none" stroke="#222" stroke-width="1.0"/>
<text x="283.80" y="488.50" font-size="11.5" font-weight="normal" font-style="normal" text-anchor="middle" fill="#111" >2</text>
<circle cx="305.40" cy="484.30" r="5.6" fill="none" stroke="#222" stroke-width="1.0"/>
<text x="305.40" y="488.50" font-size="11.5" font-weight="normal" font-style="normal" text-anchor="middle" fill="#111" >3</text>
<circle cx="326.10" cy="484.30" r="5.6" fill="none" stroke="#222" stroke-width="1.0"/>
<text x="326.10" y="488.50" font-size="11.5" font-weight="normal" font-style="normal" text-anchor="middle" fill="#111" >4</text>
<circle cx="347.70" cy="483.60" r="5.6" fill="none" stroke="#222" stroke-width="1.0"/>
<text x="347.70" y="487.80" font-size="11.5" font-weight="normal" font-style="normal" text-anchor="middle" fill="#111" >5</text>
<circle cx="367.80" cy="483.60" r="5.6" fill="none" stroke="#222" stroke-width="1.0"/>
<text x="367.80" y="487.80" font-size="11.5" font-weight="normal" font-style="normal" text-anchor="middle" fill="#111" >6</text>
<circle cx="389.00" cy="483.60" r="5.6" fill="none" stroke="#222" stroke-width="1.0"/>
<text x="389.00" y="487.80" font-size="11.5" font-weight="normal" font-style="normal" text-anchor="middle" fill="#111" >7</text>
<circle cx="408.40" cy="483.60" r="5.6" fill="none" stroke="#222" stroke-width="1.0"/>
<text x="408.40" y="487.80" font-size="11.5" font-weight="normal" font-style="normal" text-anchor="middle" fill="#111" >8</text>
<rect x="248" y="360.7" width="170.10000000000002" height="134.2" fill="none" stroke="#111" stroke-width="1.4"/>
<line x1="248.00" y1="494.90" x2="250.20" y2="494.90" stroke="#111" stroke-width="1.0"/>
<text x="244.80" y="497.80" font-size="8" font-weight="bold" font-style="normal" text-anchor="end" fill="#000" >0</text>
<line x1="248.00" y1="461.35" x2="250.20" y2="461.35" stroke="#111" stroke-width="1.0"/>
<text x="244.80" y="464.25" font-size="8" font-weight="bold" font-style="normal" text-anchor="end" fill="#000" >50</text>
<line x1="248.00" y1="427.80" x2="250.20" y2="427.80" stroke="#111" stroke-width="1.0"/>
<text x="244.80" y="430.70" font-size="8" font-weight="bold" font-style="normal" text-anchor="end" fill="#000" >100</text>
<line x1="248.00" y1="394.25" x2="250.20" y2="394.25" stroke="#111" stroke-width="1.0"/>
<text x="244.80" y="397.15" font-size="8" font-weight="bold" font-style="normal" text-anchor="end" fill="#000" >150</text>
<line x1="248.00" y1="360.70" x2="250.20" y2="360.70" stroke="#111" stroke-width="1.0"/>
<text x="244.80" y="363.60" font-size="8" font-weight="bold" font-style="normal" text-anchor="end" fill="#000" >200</text>
<line x1="248.00" y1="494.90" x2="248.00" y2="492.70" stroke="#111" stroke-width="1.0"/>
<line x1="290.52" y1="494.90" x2="290.52" y2="492.70" stroke="#111" stroke-width="1.0"/>
<text x="290.52" y="504.20" font-size="8" font-weight="bold" font-style="normal" text-anchor="middle" fill="#000" >15</text>
<line x1="333.05" y1="494.90" x2="333.05" y2="492.70" stroke="#111" stroke-width="1.0"/>
<text x="333.05" y="504.20" font-size="8" font-weight="bold" font-style="normal" text-anchor="middle" fill="#000" >30</text>
<line x1="375.58" y1="494.90" x2="375.58" y2="492.70" stroke="#111" stroke-width="1.0"/>
<text x="375.58" y="504.20" font-size="8" font-weight="bold" font-style="normal" text-anchor="middle" fill="#000" >45</text>
<line x1="418.10" y1="494.90" x2="418.10" y2="492.70" stroke="#111" stroke-width="1.0"/>
<text x="418.10" y="504.20" font-size="8" font-weight="bold" font-style="normal" text-anchor="middle" fill="#000" >60</text>
<text x="328.00" y="516.00" font-size="11" font-weight="bold" font-style="normal" text-anchor="middle" fill="#000" >Displacement, <tspan font-style="italic">s</tspan>(mm)</text>
<text transform="translate(226.5,428.09999999999997) rotate(-90)" font-size="10.6" font-weight="bold" text-anchor="middle">Load, <tspan font-style="italic">F</tspan>(N)</text>
<text x="415.60" y="372.50" font-size="8.3" font-weight="bold" font-style="italic" text-anchor="end" fill="#000" >Pattern4-3-2-1</text>
<text x="206.80" y="362.20" font-size="12.5" font-weight="bold" font-style="normal" text-anchor="start" fill="#000" >(F)</text>
<defs><linearGradient id="ig363" x1="0" y1="0" x2="0" y2="1"><stop offset="0" stop-color="#8e887c"/><stop offset="0.35" stop-color="#b9b6ae"/><stop offset="0.7" stop-color="#e2e2e2"/><stop offset="1" stop-color="#efefef"/></linearGradient></defs>
<rect x="260.60" y="363.50" width="28.70" height="46.40" fill="url(#ig363)" stroke="#666" stroke-width="0.5"/>
<rect x="260.60" y="363.50" width="28.70" height="2.00" fill="#6e685c" />
<polygon points="260.60,366.23 270.10,370.23 260.60,374.23" fill="#0a0a0a" />
<polygon points="289.30,366.23 279.80,370.23 289.30,374.23" fill="#0a0a0a" />
<ellipse cx="274.95" cy="370.23" rx="6.31" ry="3.0" fill="#000"/>
<path d="M261.60,365.73 Q268.64,369.23 274.95,367.03 Q281.26,369.23 288.30,365.73 M261.60,374.73 Q268.64,371.23 274.95,373.43 Q281.26,371.23 288.30,374.73" stroke="#555" stroke-width="0.6" fill="none"/>
<polygon points="260.60,376.20 270.10,380.20 260.60,384.20" fill="#0a0a0a" />
<polygon points="289.30,376.20 279.80,380.20 289.30,384.20" fill="#0a0a0a" />
<ellipse cx="274.95" cy="380.20" rx="6.31" ry="3.0" fill="#000"/>
<path d="M261.60,375.70 Q268.64,379.20 274.95,377.00 Q281.26,379.20 288.30,375.70 M261.60,384.70 Q268.64,381.20 274.95,383.40 Q281.26,381.20 288.30,384.70" stroke="#555" stroke-width="0.6" fill="none"/>
<polygon points="260.60,386.88 270.10,390.88 260.60,394.88" fill="#0a0a0a" />
<polygon points="289.30,386.88 279.80,390.88 289.30,394.88" fill="#0a0a0a" />
<ellipse cx="274.95" cy="390.88" rx="6.31" ry="3.0" fill="#000"/>
<path d="M261.60,386.38 Q268.64,389.88 274.95,387.68 Q281.26,389.88 288.30,386.38 M261.60,395.38 Q268.64,391.88 274.95,394.08 Q281.26,391.88 288.30,395.38" stroke="#555" stroke-width="0.6" fill="none"/>
<polygon points="260.60,398.24 270.10,402.24 260.60,406.24" fill="#0a0a0a" />
<polygon points="289.30,398.24 279.80,402.24 289.30,406.24" fill="#0a0a0a" />
<ellipse cx="274.95" cy="402.24" rx="6.31" ry="3.0" fill="#000"/>
<path d="M261.60,397.74 Q268.64,401.24 274.95,399.04 Q281.26,401.24 288.30,397.74 M261.60,406.74 Q268.64,403.24 274.95,405.44 Q281.26,403.24 288.30,406.74" stroke="#555" stroke-width="0.6" fill="none"/>
<rect x="263.10" y="408.30" width="1.00" height="1.00" fill="#555" />
<rect x="270.67" y="408.30" width="1.00" height="1.00" fill="#555" />
<rect x="278.23" y="408.30" width="1.00" height="1.00" fill="#555" />
<rect x="285.80" y="408.30" width="1.00" height="1.00" fill="#555" />
<text x="259.20" y="374.33" font-size="11.5" font-weight="normal" font-style="normal" text-anchor="end" fill="#000" >4</text>
<text x="290.30" y="374.33" font-size="11.5" font-weight="normal" font-style="normal" text-anchor="start" fill="#000" >4</text>
<text x="259.20" y="384.30" font-size="11.5" font-weight="normal" font-style="normal" text-anchor="end" fill="#000" >3</text>
<text x="290.30" y="384.30" font-size="11.5" font-weight="normal" font-style="normal" text-anchor="start" fill="#000" >3</text>
<text x="259.20" y="394.98" font-size="11.5" font-weight="normal" font-style="normal" text-anchor="end" fill="#000" >2</text>
<text x="290.30" y="394.98" font-size="11.5" font-weight="normal" font-style="normal" text-anchor="start" fill="#000" >2</text>
<text x="259.20" y="406.34" font-size="11.5" font-weight="normal" font-style="normal" text-anchor="end" fill="#000" >1</text>
<text x="290.30" y="406.34" font-size="11.5" font-weight="normal" font-style="normal" text-anchor="start" fill="#000" >1</text>
<path d="M250.00,665.50 C250.27,664.10 251.37,657.63 252.00,655.00 C252.63,652.37 253.97,648.33 254.70,645.80 C255.43,643.27 256.73,638.52 257.50,636.00 C258.27,633.48 259.51,629.57 260.50,626.90 C261.49,624.23 263.90,618.12 264.90,616.00 C265.90,613.88 267.32,611.84 268.00,611.00 C268.68,610.16 269.44,609.33 270.00,609.70 C270.56,610.07 271.80,611.76 272.20,613.80 C272.60,615.84 272.81,621.51 273.00,625.00 C273.19,628.49 273.44,639.33 273.60,640.00 C273.76,640.67 273.88,632.67 274.20,630.00 C274.52,627.33 275.23,622.67 276.00,620.00 C276.77,617.33 278.85,612.16 280.00,610.00 C281.15,607.84 283.89,603.11 284.60,603.80 C285.31,604.49 285.17,612.37 285.30,615.20 C285.43,618.03 285.51,624.76 285.60,625.00 C285.69,625.24 285.68,617.67 286.00,617.00 C286.32,616.33 287.20,619.33 288.00,620.00 C288.80,620.67 291.20,621.76 292.00,622.00 C292.80,622.24 293.47,621.67 294.00,621.80 C294.53,621.93 295.41,622.52 296.00,623.00 C296.59,623.48 297.80,626.47 298.40,625.40 C299.00,624.33 300.01,616.75 300.50,615.00 C300.99,613.25 301.59,611.69 302.10,612.30 C302.61,612.91 303.62,617.47 304.30,619.60 C304.98,621.73 306.51,627.85 307.20,628.30 C307.89,628.75 308.91,623.97 309.50,623.00 C310.09,622.03 311.20,619.41 311.60,621.00 C312.00,622.59 312.25,635.03 312.50,634.90 C312.75,634.77 313.23,620.00 313.50,620.00 C313.77,620.00 314.23,634.90 314.50,634.90 C314.77,634.90 315.11,621.65 315.50,620.00 C315.89,618.35 316.80,623.57 317.40,622.50 C318.00,621.43 319.32,614.33 320.00,612.00 C320.68,609.67 321.70,606.20 322.50,605.00 C323.30,603.80 324.93,603.48 326.00,603.00 C327.07,602.52 329.73,601.60 330.50,601.40 C331.27,601.20 331.47,600.35 331.80,601.50 C332.13,602.65 332.53,606.65 333.00,610.00 C333.47,613.35 334.63,626.33 335.30,626.60 C335.97,626.87 337.01,615.49 338.00,612.00 C338.99,608.51 341.66,600.55 342.70,600.40 C343.74,600.25 345.11,607.41 345.80,610.90 C346.49,614.39 347.34,624.85 347.90,626.60 C348.46,628.35 349.31,624.69 350.00,624.00 C350.69,623.31 352.30,623.53 353.10,621.40 C353.90,619.27 355.16,611.08 356.00,608.00 C356.84,604.92 358.67,598.70 359.40,598.30 C360.13,597.90 360.79,600.39 361.50,605.00 C362.21,609.61 363.97,630.23 364.70,632.90 C365.43,635.57 366.16,627.65 367.00,625.00 C367.84,622.35 370.07,615.80 371.00,613.00 C371.93,610.20 373.17,605.81 374.00,604.00 C374.83,602.19 376.40,598.60 377.20,599.40 C378.00,600.20 378.88,604.97 380.00,610.00 C381.12,615.03 384.53,636.83 385.60,637.10 C386.67,637.37 387.29,618.56 388.00,612.00 C388.71,605.44 390.23,594.83 390.90,587.90 C391.57,580.97 392.44,566.29 393.00,560.00 C393.56,553.71 394.57,542.30 395.10,540.70 C395.63,539.10 396.45,545.91 397.00,548.00 C397.55,550.09 398.53,550.80 399.20,556.40 C399.87,562.00 401.29,580.64 402.00,590.00 C402.71,599.36 403.97,622.41 404.50,626.60 C405.03,630.79 405.80,622.09 406.00,621.40" fill="none" stroke="#111" stroke-width="1.6" stroke-linejoin="round"/>
<circle cx="272.90" cy="635.90" r="1.9" fill="#1f7a1f"/>
<circle cx="285.60" cy="614.90" r="1.9" fill="#1f7a1f"/>
<circle cx="335.30" cy="626.60" r="1.9" fill="#1f7a1f"/>
<circle cx="347.90" cy="626.60" r="1.9" fill="#1f7a1f"/>
<circle cx="364.70" cy="632.90" r="1.9" fill="#1f7a1f"/>
<circle cx="385.60" cy="637.10" r="1.9" fill="#1f7a1f"/>
<circle cx="270.00" cy="647.30" r="5.6" fill="none" stroke="#222" stroke-width="1.0"/>
<text x="270.00" y="651.50" font-size="11.5" font-weight="normal" font-style="normal" text-anchor="middle" fill="#111" >1</text>
<circle cx="281.20" cy="632.40" r="5.6" fill="none" stroke="#222" stroke-width="1.0"/>
<text x="281.20" y="636.60" font-size="11.5" font-weight="normal" font-style="normal" text-anchor="middle" fill="#111" >2</text>
<circle cx="330.10" cy="635.60" r="5.6" fill="none" stroke="#222" stroke-width="1.0"/>
<text x="330.10" y="639.80" font-size="11.5" font-weight="normal" font-style="normal" text-anchor="middle" fill="#111" >3</text>
<circle cx="343.70" cy="635.00" r="5.6" fill="none" stroke="#222" stroke-width="1.0"/>
<text x="343.70" y="639.20" font-size="11.5" font-weight="normal" font-style="normal" text-anchor="middle" fill="#111" >4</text>
<circle cx="360.50" cy="642.40" r="5.6" fill="none" stroke="#222" stroke-width="1.0"/>
<text x="360.50" y="646.60" font-size="11.5" font-weight="normal" font-style="normal" text-anchor="middle" fill="#111" >5</text>
<circle cx="382.10" cy="644.90" r="5.6" fill="none" stroke="#222" stroke-width="1.0"/>
<text x="382.10" y="649.10" font-size="11.5" font-weight="normal" font-style="normal" text-anchor="middle" fill="#111" >6</text>
<rect x="249.6" y="531.4" width="170.50000000000003" height="134.60000000000002" fill="none" stroke="#111" stroke-width="1.4"/>
<line x1="249.60" y1="666.00" x2="251.80" y2="666.00" stroke="#111" stroke-width="1.0"/>
<text x="246.40" y="668.90" font-size="8" font-weight="bold" font-style="normal" text-anchor="end" fill="#000" >0</text>
<line x1="249.60" y1="632.35" x2="251.80" y2="632.35" stroke="#111" stroke-width="1.0"/>
<text x="246.40" y="635.25" font-size="8" font-weight="bold" font-style="normal" text-anchor="end" fill="#000" >50</text>
<line x1="249.60" y1="598.70" x2="251.80" y2="598.70" stroke="#111" stroke-width="1.0"/>
<text x="246.40" y="601.60" font-size="8" font-weight="bold" font-style="normal" text-anchor="end" fill="#000" >100</text>
<line x1="249.60" y1="565.05" x2="251.80" y2="565.05" stroke="#111" stroke-width="1.0"/>
<text x="246.40" y="567.95" font-size="8" font-weight="bold" font-style="normal" text-anchor="end" fill="#000" >150</text>
<line x1="249.60" y1="531.40" x2="251.80" y2="531.40" stroke="#111" stroke-width="1.0"/>
<text x="246.40" y="534.30" font-size="8" font-weight="bold" font-style="normal" text-anchor="end" fill="#000" >200</text>
<line x1="249.60" y1="666.00" x2="249.60" y2="663.80" stroke="#111" stroke-width="1.0"/>
<line x1="292.23" y1="666.00" x2="292.23" y2="663.80" stroke="#111" stroke-width="1.0"/>
<text x="292.23" y="675.30" font-size="8" font-weight="bold" font-style="normal" text-anchor="middle" fill="#000" >15</text>
<line x1="334.85" y1="666.00" x2="334.85" y2="663.80" stroke="#111" stroke-width="1.0"/>
<text x="334.85" y="675.30" font-size="8" font-weight="bold" font-style="normal" text-anchor="middle" fill="#000" >30</text>
<line x1="377.48" y1="666.00" x2="377.48" y2="663.80" stroke="#111" stroke-width="1.0"/>
<text x="377.48" y="675.30" font-size="8" font-weight="bold" font-style="normal" text-anchor="middle" fill="#000" >45</text>
<line x1="420.10" y1="666.00" x2="420.10" y2="663.80" stroke="#111" stroke-width="1.0"/>
<text x="420.10" y="675.30" font-size="8" font-weight="bold" font-style="normal" text-anchor="middle" fill="#000" >60</text>
<text x="329.70" y="687.10" font-size="11" font-weight="bold" font-style="normal" text-anchor="middle" fill="#000" >Displacement, <tspan font-style="italic">s</tspan>(mm)</text>
<text transform="translate(226.5,599.0) rotate(-90)" font-size="10.6" font-weight="bold" text-anchor="middle">Load, <tspan font-style="italic">F</tspan>(N)</text>
<text x="417.60" y="543.20" font-size="8.3" font-weight="bold" font-style="italic" text-anchor="end" fill="#000" >Mix</text>
<text x="209.20" y="537.00" font-size="12.5" font-weight="bold" font-style="normal" text-anchor="start" fill="#000" >(G)</text>
<defs><linearGradient id="ig535" x1="0" y1="0" x2="0" y2="1"><stop offset="0" stop-color="#8e887c"/><stop offset="0.35" stop-color="#b9b6ae"/><stop offset="0.7" stop-color="#e2e2e2"/><stop offset="1" stop-color="#efefef"/></linearGradient></defs>
<rect x="260.80" y="535.30" width="28.50" height="46.40" fill="url(#ig535)" stroke="#666" stroke-width="0.5"/>
<rect x="260.80" y="535.30" width="28.50" height="2.00" fill="#6e685c" />
<polygon points="260.80,538.03 270.30,542.03 260.80,546.03" fill="#0a0a0a" />
<polygon points="289.30,538.03 279.80,542.03 289.30,546.03" fill="#0a0a0a" />
<ellipse cx="275.05" cy="542.03" rx="6.27" ry="3.0" fill="#000"/>
<path d="M261.80,537.53 Q268.78,541.03 275.05,538.83 Q281.32,541.03 288.30,537.53 M261.80,546.53 Q268.78,543.03 275.05,545.23 Q281.32,543.03 288.30,546.53" stroke="#555" stroke-width="0.6" fill="none"/>
<polygon points="260.80,548.00 270.30,552.00 260.80,556.00" fill="#0a0a0a" />
<polygon points="289.30,548.00 279.80,552.00 289.30,556.00" fill="#0a0a0a" />
<ellipse cx="275.05" cy="552.00" rx="6.27" ry="3.0" fill="#000"/>
<path d="M261.80,547.50 Q268.78,551.00 275.05,548.80 Q281.32,551.00 288.30,547.50 M261.80,556.50 Q268.78,553.00 275.05,555.20 Q281.32,553.00 288.30,556.50" stroke="#555" stroke-width="0.6" fill="none"/>
<polygon points="260.80,558.68 270.30,562.68 260.80,566.68" fill="#0a0a0a" />
<polygon points="289.30,558.68 279.80,562.68 289.30,566.68" fill="#0a0a0a" />
<ellipse cx="275.05" cy="562.68" rx="6.27" ry="3.0" fill="#000"/>
<path d="M261.80,558.18 Q268.78,561.68 275.05,559.48 Q281.32,561.68 288.30,558.18 M261.80,567.18 Q268.78,563.68 275.05,565.88 Q281.32,563.68 288.30,567.18" stroke="#555" stroke-width="0.6" fill="none"/>
<polygon points="260.80,570.04 270.30,574.04 260.80,578.04" fill="#0a0a0a" />
<polygon points="289.30,570.04 279.80,574.04 289.30,578.04" fill="#0a0a0a" />
<ellipse cx="275.05" cy="574.04" rx="6.27" ry="3.0" fill="#000"/>
<path d="M261.80,569.54 Q268.78,573.04 275.05,570.84 Q281.32,573.04 288.30,569.54 M261.80,578.54 Q268.78,575.04 275.05,577.24 Q281.32,575.04 288.30,578.54" stroke="#555" stroke-width="0.6" fill="none"/>
<rect x="263.30" y="580.10" width="1.00" height="1.00" fill="#555" />
<rect x="270.80" y="580.10" width="1.00" height="1.00" fill="#555" />
<rect x="278.30" y="580.10" width="1.00" height="1.00" fill="#555" />
<rect x="285.80" y="580.10" width="1.00" height="1.00" fill="#555" />
<text x="259.40" y="546.13" font-size="11.5" font-weight="normal" font-style="normal" text-anchor="end" fill="#000" >4</text>
<text x="290.30" y="546.13" font-size="11.5" font-weight="normal" font-style="normal" text-anchor="start" fill="#000" >1</text>
<text x="259.40" y="556.10" font-size="11.5" font-weight="normal" font-style="normal" text-anchor="end" fill="#000" >2</text>
<text x="290.30" y="556.10" font-size="11.5" font-weight="normal" font-style="normal" text-anchor="start" fill="#000" >3</text>
<text x="259.40" y="566.78" font-size="11.5" font-weight="normal" font-style="normal" text-anchor="end" fill="#000" >3</text>
<text x="290.30" y="566.78" font-size="11.5" font-weight="normal" font-style="normal" text-anchor="start" fill="#000" >2</text>
<text x="259.40" y="578.14" font-size="11.5" font-weight="normal" font-style="normal" text-anchor="end" fill="#000" >1</text>
<text x="290.30" y="578.14" font-size="11.5" font-weight="normal" font-style="normal" text-anchor="start" fill="#000" >4</text>
<rect x="421.00" y="11.60" width="191.50" height="132.40" fill="#000" />
<rect x="466.00" y="12.80" width="5.20" height="130.00" fill="#fff" />
<rect x="513.70" y="12.80" width="6.00" height="130.00" fill="#fff" />
<rect x="562.90" y="12.80" width="5.20" height="130.00" fill="#fff" />
<rect x="422.20" y="76.20" width="189.10" height="4.60" fill="#fff" />
<rect x="422.70" y="12.80" width="42.50" height="62.90" fill="#000" />
<clipPath id="cl1"><rect x="422.70" y="12.80" width="42.50" height="62.90"/></clipPath><g clip-path="url(#cl1)">
<rect x="423.30" y="12.80" width="41.30" height="62.60" fill="#2a2a2c" />
<rect x="423.30" y="12.80" width="41.30" height="4.44" fill="#a09c92" />
<rect x="423.30" y="17.24" width="41.30" height="6.80" fill="#b1aea6" />
<polygon points="436.29,20.64 440.03,17.24 448.94,17.24 452.68,20.64 448.94,24.04 440.03,24.04" fill="#060606" />
<polygon points="423.30,17.24 428.75,17.24 432.49,20.64 428.75,24.04 423.30,24.04" fill="#161618" />
<polygon points="464.60,17.24 460.21,17.24 456.47,20.64 460.21,24.04 464.60,24.04" fill="#161618" />
<rect x="423.30" y="24.04" width="41.30" height="8.87" fill="#c3c0bb" />
<rect x="423.30" y="32.91" width="41.30" height="6.80" fill="#d4d3cf" />
<polygon points="436.29,36.31 440.03,32.91 448.94,32.91 452.68,36.31 448.94,39.71 440.03,39.71" fill="#060606" />
<polygon points="423.30,32.91 428.75,32.91 432.49,36.31 428.75,39.71 423.30,39.71" fill="#161618" />
<polygon points="464.60,32.91 460.21,32.91 456.47,36.31 460.21,39.71 464.60,39.71" fill="#161618" />
<rect x="423.30" y="39.71" width="41.30" height="8.87" fill="#e5e5e4" />
<rect x="423.30" y="48.58" width="41.30" height="4.50" fill="#ececec" />
<polygon points="436.29,50.83 438.76,48.58 450.20,48.58 452.68,50.83 450.20,53.08 438.76,53.08" fill="#060606" />
<polygon points="423.30,48.58 430.01,48.58 432.49,50.83 430.01,53.08 423.30,53.08" fill="#161618" />
<polygon points="464.60,48.58 458.95,48.58 456.47,50.83 458.95,53.08 464.60,53.08" fill="#161618" />
<rect x="423.30" y="53.08" width="41.30" height="8.87" fill="#ececec" />
<rect x="423.30" y="61.95" width="41.30" height="6.80" fill="#ececec" />
<polygon points="436.29,65.35 440.03,61.95 448.94,61.95 452.68,65.35 448.94,68.75 440.03,68.75" fill="#060606" />
<polygon points="423.30,61.95 428.75,61.95 432.49,65.35 428.75,68.75 423.30,68.75" fill="#161618" />
<polygon points="464.60,61.95 460.21,61.95 456.47,65.35 460.21,68.75 464.60,68.75" fill="#161618" />
<rect x="423.30" y="68.75" width="41.30" height="6.65" fill="#ececec" />
<rect x="424.90" y="74.10" width="0.80" height="1.30" fill="#444" />
<rect x="434.23" y="74.10" width="0.80" height="1.30" fill="#444" />
<rect x="443.55" y="74.10" width="0.80" height="1.30" fill="#444" />
<rect x="452.88" y="74.10" width="0.80" height="1.30" fill="#444" />
<rect x="462.20" y="74.10" width="0.80" height="1.30" fill="#444" />
<rect x="423.30" y="47.98" width="19.82" height="1.45" fill="#23922a" />
<rect x="443.10" y="52.48" width="21.50" height="1.45" fill="#23922a" />
</g>
<circle cx="431.70" cy="21.40" r="5.7" fill="none" stroke="#222" stroke-width="2.2" opacity="0.55"/>
<circle cx="431.70" cy="21.40" r="5.7" fill="none" stroke="#fff" stroke-width="1.2"/>
<text x="431.70" y="25.30" font-size="10.5" font-weight="normal" font-style="normal" text-anchor="middle" fill="#fff" stroke="#fff" stroke-width="0.45">1</text>
<rect x="471.50" y="12.80" width="41.40" height="62.90" fill="#000" />
<clipPath id="cl2"><rect x="471.50" y="12.80" width="41.40" height="62.90"/></clipPath><g clip-path="url(#cl2)">
<rect x="472.10" y="14.50" width="40.20" height="60.90" fill="#2a2a2c" />
<rect x="472.10" y="14.50" width="40.20" height="4.56" fill="#a09c92" />
<rect x="472.10" y="19.06" width="40.20" height="6.80" fill="#b1aea6" />
<polygon points="484.78,22.46 488.52,19.06 496.91,19.06 500.65,22.46 496.91,25.86 488.52,25.86" fill="#060606" />
<polygon points="472.10,19.06 477.25,19.06 480.99,22.46 477.25,25.86 472.10,25.86" fill="#161618" />
<polygon points="512.30,19.06 508.19,19.06 504.45,22.46 508.19,25.86 512.30,25.86" fill="#161618" />
<rect x="472.10" y="25.86" width="40.20" height="9.13" fill="#c3c0bb" />
<rect x="472.10" y="34.99" width="40.20" height="6.80" fill="#d4d3cf" />
<polygon points="484.78,38.39 488.52,34.99 496.91,34.99 500.65,38.39 496.91,41.79 488.52,41.79" fill="#060606" />
<polygon points="472.10,34.99 477.25,34.99 480.99,38.39 477.25,41.79 472.10,41.79" fill="#161618" />
<polygon points="512.30,34.99 508.19,34.99 504.45,38.39 508.19,41.79 512.30,41.79" fill="#161618" />
<rect x="472.10" y="41.79" width="40.20" height="9.13" fill="#e5e5e4" />
<rect x="472.10" y="50.92" width="40.20" height="4.50" fill="#ececec" />
<polygon points="484.78,53.17 487.26,50.92 498.17,50.92 500.65,53.17 498.17,55.42 487.26,55.42" fill="#060606" />
<polygon points="472.10,50.92 478.51,50.92 480.99,53.17 478.51,55.42 472.10,55.42" fill="#161618" />
<polygon points="512.30,50.92 506.92,50.92 504.45,53.17 506.92,55.42 512.30,55.42" fill="#161618" />
<rect x="472.10" y="55.42" width="40.20" height="9.13" fill="#ececec" />
<rect x="472.10" y="64.55" width="40.20" height="4.00" fill="#ececec" />
<polygon points="484.78,66.55 486.98,64.55 498.45,64.55 500.65,66.55 498.45,68.55 486.98,68.55" fill="#060606" />
<polygon points="472.10,64.55 478.79,64.55 480.99,66.55 478.79,68.55 472.10,68.55" fill="#161618" />
<polygon points="512.30,64.55 506.65,64.55 504.45,66.55 506.65,68.55 512.30,68.55" fill="#161618" />
<rect x="472.10" y="68.55" width="40.20" height="6.85" fill="#ececec" />
<rect x="473.70" y="74.10" width="0.80" height="1.30" fill="#444" />
<rect x="482.75" y="74.10" width="0.80" height="1.30" fill="#444" />
<rect x="491.80" y="74.10" width="0.80" height="1.30" fill="#444" />
<rect x="500.85" y="74.10" width="0.80" height="1.30" fill="#444" />
<rect x="509.90" y="74.10" width="0.80" height="1.30" fill="#444" />
<rect x="472.10" y="50.32" width="19.30" height="1.45" fill="#23922a" />
<rect x="491.37" y="54.82" width="20.93" height="1.45" fill="#23922a" />
<rect x="472.10" y="67.95" width="40.20" height="1.45" fill="#23922a" />
</g>
<circle cx="480.50" cy="21.40" r="5.7" fill="none" stroke="#222" stroke-width="2.2" opacity="0.55"/>
<circle cx="480.50" cy="21.40" r="5.7" fill="none" stroke="#fff" stroke-width="1.2"/>
<text x="480.50" y="25.30" font-size="10.5" font-weight="normal" font-style="normal" text-anchor="middle" fill="#fff" stroke="#fff" stroke-width="0.45">2</text>
<rect x="520.40" y="12.80" width="41.60" height="62.90" fill="#000" />
<clipPath id="cl3"><rect x="520.40" y="12.80" width="41.60" height="62.90"/></clipPath><g clip-path="url(#cl3)">
<rect x="521.00" y="19.30" width="40.40" height="56.10" fill="#2a2a2c" />
<rect x="521.00" y="19.30" width="40.40" height="4.27" fill="#a09c92" />
<rect x="521.00" y="23.57" width="40.40" height="6.80" fill="#b1aea6" />
<polygon points="533.74,26.97 537.48,23.57 545.96,23.57 549.70,26.97 545.96,30.37 537.48,30.37" fill="#060606" />
<polygon points="521.00,23.57 526.20,23.57 529.94,26.97 526.20,30.37 521.00,30.37" fill="#161618" />
<polygon points="561.40,23.57 557.24,23.57 553.50,26.97 557.24,30.37 561.40,30.37" fill="#161618" />
<rect x="521.00" y="30.37" width="40.40" height="8.54" fill="#c3c0bb" />
<rect x="521.00" y="38.91" width="40.40" height="6.80" fill="#d4d3cf" />
<polygon points="533.74,42.31 537.48,38.91 545.96,38.91 549.70,42.31 545.96,45.71 537.48,45.71" fill="#060606" />
<polygon points="521.00,38.91 526.20,38.91 529.94,42.31 526.20,45.71 521.00,45.71" fill="#161618" />
<polygon points="561.40,38.91 557.24,38.91 553.50,42.31 557.24,45.71 561.40,45.71" fill="#161618" />
<rect x="521.00" y="45.71" width="40.40" height="8.54" fill="#e3e1dd" />
<rect x="521.00" y="54.25" width="40.40" height="2.20" fill="#7a6e5a" />
<rect x="521.00" y="56.45" width="40.40" height="8.54" fill="#e3e1dd" />
<rect x="521.00" y="64.99" width="40.40" height="4.00" fill="#ececec" />
<polygon points="533.74,66.99 535.94,64.99 547.50,64.99 549.70,66.99 547.50,68.99 535.94,68.99" fill="#060606" />
<polygon points="521.00,64.99 527.74,64.99 529.94,66.99 527.74,68.99 521.00,68.99" fill="#161618" />
<polygon points="561.40,64.99 555.70,64.99 553.50,66.99 555.70,68.99 561.40,68.99" fill="#161618" />
<rect x="521.00" y="68.99" width="40.40" height="6.41" fill="#ececec" />
<rect x="522.60" y="74.10" width="0.80" height="1.30" fill="#444" />
<rect x="531.70" y="74.10" width="0.80" height="1.30" fill="#444" />
<rect x="540.80" y="74.10" width="0.80" height="1.30" fill="#444" />
<rect x="549.90" y="74.10" width="0.80" height="1.30" fill="#444" />
<rect x="559.00" y="74.10" width="0.80" height="1.30" fill="#444" />
<rect x="521.00" y="53.35" width="40.40" height="1.45" fill="#23922a" />
<rect x="521.00" y="56.25" width="40.40" height="1.45" fill="#23922a" />
<rect x="521.00" y="68.39" width="40.40" height="1.45" fill="#23922a" />
</g>
<circle cx="529.40" cy="21.40" r="5.7" fill="none" stroke="#222" stroke-width="2.2" opacity="0.55"/>
<circle cx="529.40" cy="21.40" r="5.7" fill="none" stroke="#fff" stroke-width="1.2"/>
<text x="529.40" y="25.30" font-size="10.5" font-weight="normal" font-style="normal" text-anchor="middle" fill="#fff" stroke="#fff" stroke-width="0.45">3</text>
<rect x="569.00" y="12.80" width="41.60" height="62.90" fill="#000" />
<clipPath id="cl4"><rect x="569.00" y="12.80" width="41.60" height="62.90"/></clipPath><g clip-path="url(#cl4)">
<rect x="569.60" y="22.60" width="40.40" height="52.80" fill="#2a2a2c" />
<rect x="569.60" y="22.60" width="40.40" height="4.15" fill="#a09c92" />
<rect x="569.60" y="26.75" width="40.40" height="6.80" fill="#b1aea6" />
<polygon points="582.34,30.15 586.08,26.75 594.56,26.75 598.30,30.15 594.56,33.55 586.08,33.55" fill="#060606" />
<polygon points="569.60,26.75 574.80,26.75 578.54,30.15 574.80,33.55 569.60,33.55" fill="#161618" />
<polygon points="610.00,26.75 605.84,26.75 602.10,30.15 605.84,33.55 610.00,33.55" fill="#161618" />
<rect x="569.60" y="33.55" width="40.40" height="8.31" fill="#c3c0bb" />
<rect x="569.60" y="41.86" width="40.40" height="4.50" fill="#d4d3cf" />
<polygon points="582.34,44.11 584.82,41.86 595.83,41.86 598.30,44.11 595.83,46.36 584.82,46.36" fill="#060606" />
<polygon points="569.60,41.86 576.07,41.86 578.54,44.11 576.07,46.36 569.60,46.36" fill="#161618" />
<polygon points="610.00,41.86 604.58,41.86 602.10,44.11 604.58,46.36 610.00,46.36" fill="#161618" />
<rect x="569.60" y="46.36" width="40.40" height="8.31" fill="#e3e1dd" />
<rect x="569.60" y="54.66" width="40.40" height="2.20" fill="#7a6e5a" />
<rect x="569.60" y="56.86" width="40.40" height="8.31" fill="#e3e1dd" />
<rect x="569.60" y="65.17" width="40.40" height="4.00" fill="#ececec" />
<polygon points="582.34,67.17 584.54,65.17 596.10,65.17 598.30,67.17 596.10,69.17 584.54,69.17" fill="#060606" />
<polygon points="569.60,65.17 576.34,65.17 578.54,67.17 576.34,69.17 569.60,69.17" fill="#161618" />
<polygon points="610.00,65.17 604.30,65.17 602.10,67.17 604.30,69.17 610.00,69.17" fill="#161618" />
<rect x="569.60" y="69.17" width="40.40" height="6.23" fill="#ececec" />
<rect x="571.20" y="74.10" width="0.80" height="1.30" fill="#444" />
<rect x="580.30" y="74.10" width="0.80" height="1.30" fill="#444" />
<rect x="589.40" y="74.10" width="0.80" height="1.30" fill="#444" />
<rect x="598.50" y="74.10" width="0.80" height="1.30" fill="#444" />
<rect x="607.60" y="74.10" width="0.80" height="1.30" fill="#444" />
<rect x="569.60" y="41.26" width="19.39" height="1.45" fill="#23922a" />
<rect x="588.97" y="45.76" width="21.03" height="1.45" fill="#23922a" />
<rect x="569.60" y="53.76" width="40.40" height="1.45" fill="#23922a" />
<rect x="569.60" y="56.66" width="40.40" height="1.45" fill="#23922a" />
<rect x="569.60" y="68.57" width="40.40" height="1.45" fill="#23922a" />
</g>
<circle cx="578.00" cy="21.40" r="5.7" fill="none" stroke="#222" stroke-width="2.2" opacity="0.55"/>
<circle cx="578.00" cy="21.40" r="5.7" fill="none" stroke="#fff" stroke-width="1.2"/>
<text x="578.00" y="25.30" font-size="10.5" font-weight="normal" font-style="normal" text-anchor="middle" fill="#fff" stroke="#fff" stroke-width="0.45">4</text>
<rect x="422.70" y="81.20" width="42.50" height="61.80" fill="#000" />
<clipPath id="cl5"><rect x="422.70" y="81.20" width="42.50" height="61.80"/></clipPath><g clip-path="url(#cl5)">
<rect x="423.30" y="95.80" width="41.30" height="46.90" fill="#2a2a2c" />
<rect x="423.30" y="95.80" width="41.30" height="3.73" fill="#a09c92" />
<rect x="423.30" y="99.53" width="41.30" height="6.80" fill="#b1aea6" />
<polygon points="436.29,102.93 440.03,99.53 448.94,99.53 452.68,102.93 448.94,106.33 440.03,106.33" fill="#060606" />
<polygon points="423.30,99.53 428.75,99.53 432.49,102.93 428.75,106.33 423.30,106.33" fill="#161618" />
<polygon points="464.60,99.53 460.21,99.53 456.47,102.93 460.21,106.33 464.60,106.33" fill="#161618" />
<rect x="423.30" y="106.33" width="41.30" height="7.46" fill="#c3c0bb" />
<rect x="423.30" y="113.79" width="41.30" height="2.20" fill="#7a6e5a" />
<rect x="423.30" y="115.99" width="41.30" height="7.46" fill="#e3e1dd" />
<rect x="423.30" y="123.45" width="41.30" height="2.20" fill="#7a6e5a" />
<rect x="423.30" y="125.65" width="41.30" height="7.46" fill="#e3e1dd" />
<rect x="423.30" y="133.11" width="41.30" height="4.00" fill="#ececec" />
<polygon points="436.29,135.11 438.49,133.11 450.48,133.11 452.68,135.11 450.48,137.11 438.49,137.11" fill="#060606" />
<polygon points="423.30,133.11 430.29,133.11 432.49,135.11 430.29,137.11 423.30,137.11" fill="#161618" />
<polygon points="464.60,133.11 458.67,133.11 456.47,135.11 458.67,137.11 464.60,137.11" fill="#161618" />
<rect x="423.30" y="137.11" width="41.30" height="5.59" fill="#ececec" />
<rect x="424.90" y="141.40" width="0.80" height="1.30" fill="#444" />
<rect x="434.23" y="141.40" width="0.80" height="1.30" fill="#444" />
<rect x="443.55" y="141.40" width="0.80" height="1.30" fill="#444" />
<rect x="452.88" y="141.40" width="0.80" height="1.30" fill="#444" />
<rect x="462.20" y="141.40" width="0.80" height="1.30" fill="#444" />
<rect x="423.30" y="112.89" width="41.30" height="1.45" fill="#23922a" />
<rect x="423.30" y="115.79" width="41.30" height="1.45" fill="#23922a" />
<rect x="423.30" y="122.55" width="41.30" height="1.45" fill="#23922a" />
<rect x="423.30" y="125.45" width="41.30" height="1.45" fill="#23922a" />
<rect x="423.30" y="136.51" width="41.30" height="1.45" fill="#23922a" />
</g>
<circle cx="431.70" cy="89.80" r="5.7" fill="none" stroke="#222" stroke-width="2.2" opacity="0.55"/>
<circle cx="431.70" cy="89.80" r="5.7" fill="none" stroke="#fff" stroke-width="1.2"/>
<text x="431.70" y="93.70" font-size="10.5" font-weight="normal" font-style="normal" text-anchor="middle" fill="#fff" stroke="#fff" stroke-width="0.45">5</text>
<rect x="471.50" y="81.20" width="41.40" height="61.80" fill="#000" />
<clipPath id="cl6"><rect x="471.50" y="81.20" width="41.40" height="61.80"/></clipPath><g clip-path="url(#cl6)">
<rect x="472.10" y="98.30" width="40.20" height="44.40" fill="#2a2a2c" />
<rect x="472.10" y="98.30" width="40.20" height="3.65" fill="#a09c92" />
<rect x="472.10" y="101.95" width="40.20" height="6.80" fill="#b1aea6" />
<polygon points="484.78,105.35 488.52,101.95 496.91,101.95 500.65,105.35 496.91,108.75 488.52,108.75" fill="#060606" />
<polygon points="472.10,101.95 477.25,101.95 480.99,105.35 477.25,108.75 472.10,108.75" fill="#161618" />
<polygon points="512.30,101.95 508.19,101.95 504.45,105.35 508.19,108.75 512.30,108.75" fill="#161618" />
<rect x="472.10" y="108.75" width="40.20" height="7.29" fill="#c3c0bb" />
<rect x="472.10" y="116.04" width="40.20" height="2.20" fill="#7a6e5a" />
<rect x="472.10" y="118.24" width="40.20" height="7.29" fill="#e3e1dd" />
<rect x="472.10" y="125.54" width="40.20" height="2.20" fill="#7a6e5a" />
<rect x="472.10" y="127.74" width="40.20" height="7.29" fill="#e3e1dd" />
<rect x="472.10" y="135.03" width="40.20" height="2.20" fill="#7a6e5a" />
<rect x="472.10" y="137.23" width="40.20" height="5.47" fill="#e3e1dd" />
<rect x="473.70" y="141.40" width="0.80" height="1.30" fill="#444" />
<rect x="482.75" y="141.40" width="0.80" height="1.30" fill="#444" />
<rect x="491.80" y="141.40" width="0.80" height="1.30" fill="#444" />
<rect x="500.85" y="141.40" width="0.80" height="1.30" fill="#444" />
<rect x="509.90" y="141.40" width="0.80" height="1.30" fill="#444" />
<rect x="472.10" y="115.14" width="40.20" height="1.45" fill="#23922a" />
<rect x="472.10" y="118.04" width="40.20" height="1.45" fill="#23922a" />
<rect x="472.10" y="124.64" width="40.20" height="1.45" fill="#23922a" />
<rect x="472.10" y="127.54" width="40.20" height="1.45" fill="#23922a" />
<rect x="472.10" y="134.13" width="40.20" height="1.45" fill="#23922a" />
<rect x="472.10" y="137.03" width="40.20" height="1.45" fill="#23922a" />
</g>
<circle cx="480.50" cy="89.80" r="5.7" fill="none" stroke="#222" stroke-width="2.2" opacity="0.55"/>
<circle cx="480.50" cy="89.80" r="5.7" fill="none" stroke="#fff" stroke-width="1.2"/>
<text x="480.50" y="93.70" font-size="10.5" font-weight="normal" font-style="normal" text-anchor="middle" fill="#fff" stroke="#fff" stroke-width="0.45">6</text>
<rect x="520.40" y="81.20" width="41.60" height="61.80" fill="#000" />
<clipPath id="cl7"><rect x="520.40" y="81.20" width="41.60" height="61.80"/></clipPath><g clip-path="url(#cl7)">
<rect x="521.00" y="101.60" width="40.40" height="41.10" fill="#2a2a2c" />
<rect x="521.00" y="101.60" width="40.40" height="3.53" fill="#a09c92" />
<rect x="521.00" y="105.13" width="40.40" height="4.50" fill="#b1aea6" />
<polygon points="533.74,107.38 536.22,105.13 547.23,105.13 549.70,107.38 547.23,109.63 536.22,109.63" fill="#060606" />
<polygon points="521.00,105.13 527.47,105.13 529.94,107.38 527.47,109.63 521.00,109.63" fill="#161618" />
<polygon points="561.40,105.13 555.98,105.13 553.50,107.38 555.98,109.63 561.40,109.63" fill="#161618" />
<rect x="521.00" y="109.63" width="40.40" height="7.06" fill="#c3c0bb" />
<rect x="521.00" y="116.69" width="40.40" height="2.20" fill="#7a6e5a" />
<rect x="521.00" y="118.89" width="40.40" height="7.06" fill="#e3e1dd" />
<rect x="521.00" y="125.95" width="40.40" height="2.20" fill="#7a6e5a" />
<rect x="521.00" y="128.15" width="40.40" height="7.06" fill="#e3e1dd" />
<rect x="521.00" y="135.21" width="40.40" height="2.20" fill="#7a6e5a" />
<rect x="521.00" y="137.41" width="40.40" height="5.29" fill="#e3e1dd" />
<rect x="522.60" y="141.40" width="0.80" height="1.30" fill="#444" />
<rect x="531.70" y="141.40" width="0.80" height="1.30" fill="#444" />
<rect x="540.80" y="141.40" width="0.80" height="1.30" fill="#444" />
<rect x="549.90" y="141.40" width="0.80" height="1.30" fill="#444" />
<rect x="559.00" y="141.40" width="0.80" height="1.30" fill="#444" />
<rect x="521.00" y="104.53" width="19.39" height="1.45" fill="#23922a" />
<rect x="540.37" y="109.03" width="21.03" height="1.45" fill="#23922a" />
<rect x="521.00" y="115.79" width="40.40" height="1.45" fill="#23922a" />
<rect x="521.00" y="118.69" width="40.40" height="1.45" fill="#23922a" />
<rect x="521.00" y="125.05" width="40.40" height="1.45" fill="#23922a" />
<rect x="521.00" y="127.95" width="40.40" height="1.45" fill="#23922a" />
<rect x="521.00" y="134.31" width="40.40" height="1.45" fill="#23922a" />
<rect x="521.00" y="137.21" width="40.40" height="1.45" fill="#23922a" />
</g>
<circle cx="529.40" cy="89.80" r="5.7" fill="none" stroke="#222" stroke-width="2.2" opacity="0.55"/>
<circle cx="529.40" cy="89.80" r="5.7" fill="none" stroke="#fff" stroke-width="1.2"/>
<text x="529.40" y="93.70" font-size="10.5" font-weight="normal" font-style="normal" text-anchor="middle" fill="#fff" stroke="#fff" stroke-width="0.45">7</text>
<rect x="569.00" y="81.20" width="41.60" height="61.80" fill="#000" />
<clipPath id="cl8"><rect x="569.00" y="81.20" width="41.60" height="61.80"/></clipPath><g clip-path="url(#cl8)">
<rect x="569.60" y="105.40" width="40.40" height="37.30" fill="#2a2a2c" />
<rect x="569.60" y="105.40" width="40.40" height="3.35" fill="#a09c92" />
<rect x="569.60" y="108.75" width="40.40" height="2.20" fill="#7a6e5a" />
<rect x="569.60" y="110.95" width="40.40" height="6.71" fill="#e3e1dd" />
<rect x="569.60" y="117.66" width="40.40" height="2.20" fill="#7a6e5a" />
<rect x="569.60" y="119.86" width="40.40" height="6.71" fill="#e3e1dd" />
<rect x="569.60" y="126.56" width="40.40" height="2.20" fill="#7a6e5a" />
<rect x="569.60" y="128.76" width="40.40" height="6.71" fill="#e3e1dd" />
<rect x="569.60" y="135.47" width="40.40" height="2.20" fill="#7a6e5a" />
<rect x="569.60" y="137.67" width="40.40" height="5.03" fill="#e3e1dd" />
<rect x="571.20" y="141.40" width="0.80" height="1.30" fill="#444" />
<rect x="580.30" y="141.40" width="0.80" height="1.30" fill="#444" />
<rect x="589.40" y="141.40" width="0.80" height="1.30" fill="#444" />
<rect x="598.50" y="141.40" width="0.80" height="1.30" fill="#444" />
<rect x="607.60" y="141.40" width="0.80" height="1.30" fill="#444" />
<rect x="569.60" y="107.85" width="40.40" height="1.45" fill="#23922a" />
<rect x="569.60" y="110.75" width="40.40" height="1.45" fill="#23922a" />
<rect x="569.60" y="116.76" width="40.40" height="1.45" fill="#23922a" />
<rect x="569.60" y="119.66" width="40.40" height="1.45" fill="#23922a" />
<rect x="569.60" y="125.66" width="40.40" height="1.45" fill="#23922a" />
<rect x="569.60" y="128.56" width="40.40" height="1.45" fill="#23922a" />
<rect x="569.60" y="134.57" width="40.40" height="1.45" fill="#23922a" />
<rect x="569.60" y="137.47" width="40.40" height="1.45" fill="#23922a" />
</g>
<circle cx="578.00" cy="89.80" r="5.7" fill="none" stroke="#222" stroke-width="2.2" opacity="0.55"/>
<circle cx="578.00" cy="89.80" r="5.7" fill="none" stroke="#fff" stroke-width="1.2"/>
<text x="578.00" y="93.70" font-size="10.5" font-weight="normal" font-style="normal" text-anchor="middle" fill="#fff" stroke="#fff" stroke-width="0.45">8</text>
<rect x="421.50" y="185.30" width="191.50" height="132.00" fill="#000" />
<rect x="466.50" y="186.50" width="5.20" height="129.60" fill="#fff" />
<rect x="514.20" y="186.50" width="6.00" height="129.60" fill="#fff" />
<rect x="563.40" y="186.50" width="5.20" height="129.60" fill="#fff" />
<rect x="422.70" y="248.80" width="189.10" height="4.60" fill="#fff" />
<rect x="423.20" y="186.50" width="41.80" height="62.30" fill="#000" />
<clipPath id="cl9"><rect x="423.20" y="186.50" width="41.80" height="62.30"/></clipPath><g clip-path="url(#cl9)">
<rect x="423.80" y="187.00" width="40.60" height="61.50" fill="#2a2a2c" />
<rect x="423.80" y="187.00" width="40.60" height="4.69" fill="#a09c92" />
<rect x="423.80" y="191.69" width="40.60" height="1.20" fill="#8a806c" />
<rect x="423.80" y="192.89" width="40.60" height="9.39" fill="#c3c0bb" />
<rect x="423.80" y="202.28" width="40.60" height="6.80" fill="#d4d3cf" />
<polygon points="436.59,205.68 440.33,202.28 448.91,202.28 452.65,205.68 448.91,209.08 440.33,209.08" fill="#060606" />
<polygon points="423.80,202.28 429.06,202.28 432.80,205.68 429.06,209.08 423.80,209.08" fill="#161618" />
<polygon points="464.40,202.28 460.19,202.28 456.45,205.68 460.19,209.08 464.40,209.08" fill="#161618" />
<rect x="423.80" y="209.08" width="40.60" height="9.39" fill="#e5e5e4" />
<rect x="423.80" y="218.47" width="40.60" height="6.80" fill="#ececec" />
<polygon points="436.59,221.87 440.33,218.47 448.91,218.47 452.65,221.87 448.91,225.27 440.33,225.27" fill="#060606" />
<polygon points="423.80,218.47 429.06,218.47 432.80,221.87 429.06,225.27 423.80,225.27" fill="#161618" />
<polygon points="464.40,218.47 460.19,218.47 456.45,221.87 460.19,225.27 464.40,225.27" fill="#161618" />
<rect x="423.80" y="225.27" width="40.60" height="9.39" fill="#ececec" />
<rect x="423.80" y="234.66" width="40.60" height="6.80" fill="#ececec" />
<polygon points="436.59,238.06 440.33,234.66 448.91,234.66 452.65,238.06 448.91,241.46 440.33,241.46" fill="#060606" />
<polygon points="423.80,234.66 429.06,234.66 432.80,238.06 429.06,241.46 423.80,241.46" fill="#161618" />
<polygon points="464.40,234.66 460.19,234.66 456.45,238.06 460.19,241.46 464.40,241.46" fill="#161618" />
<rect x="423.80" y="241.46" width="40.60" height="7.04" fill="#ececec" />
<rect x="425.40" y="247.20" width="0.80" height="1.30" fill="#444" />
<rect x="434.55" y="247.20" width="0.80" height="1.30" fill="#444" />
<rect x="443.70" y="247.20" width="0.80" height="1.30" fill="#444" />
<rect x="452.85" y="247.20" width="0.80" height="1.30" fill="#444" />
<rect x="462.00" y="247.20" width="0.80" height="1.30" fill="#444" />
<rect x="423.80" y="192.39" width="40.60" height="1.45" fill="#23922a" />
</g>
<circle cx="432.20" cy="195.10" r="5.7" fill="none" stroke="#222" stroke-width="2.2" opacity="0.55"/>
<circle cx="432.20" cy="195.10" r="5.7" fill="none" stroke="#fff" stroke-width="1.2"/>
<text x="432.20" y="199.00" font-size="10.5" font-weight="normal" font-style="normal" text-anchor="middle" fill="#fff" stroke="#fff" stroke-width="0.45">1</text>
<rect x="472.00" y="186.50" width="41.40" height="62.30" fill="#000" />
<clipPath id="cl10"><rect x="472.00" y="186.50" width="41.40" height="62.30"/></clipPath><g clip-path="url(#cl10)">
<rect x="472.60" y="187.00" width="40.20" height="61.50" fill="#2a2a2c" />
<rect x="472.60" y="187.00" width="40.20" height="4.58" fill="#a09c92" />
<rect x="472.60" y="191.58" width="40.20" height="2.20" fill="#7a6e5a" />
<rect x="472.60" y="193.78" width="40.20" height="9.15" fill="#c3c0bb" />
<rect x="472.60" y="202.93" width="40.20" height="6.80" fill="#d4d3cf" />
<polygon points="485.28,206.33 489.02,202.93 497.41,202.93 501.15,206.33 497.41,209.73 489.02,209.73" fill="#060606" />
<polygon points="472.60,202.93 477.75,202.93 481.49,206.33 477.75,209.73 472.60,209.73" fill="#161618" />
<polygon points="512.80,202.93 508.69,202.93 504.95,206.33 508.69,209.73 512.80,209.73" fill="#161618" />
<rect x="472.60" y="209.73" width="40.20" height="9.15" fill="#e5e5e4" />
<rect x="472.60" y="218.88" width="40.20" height="6.80" fill="#ececec" />
<polygon points="485.28,222.28 489.02,218.88 497.41,218.88 501.15,222.28 497.41,225.68 489.02,225.68" fill="#060606" />
<polygon points="472.60,218.88 477.75,218.88 481.49,222.28 477.75,225.68 472.60,225.68" fill="#161618" />
<polygon points="512.80,218.88 508.69,218.88 504.95,222.28 508.69,225.68 512.80,225.68" fill="#161618" />
<rect x="472.60" y="225.68" width="40.20" height="9.15" fill="#ececec" />
<rect x="472.60" y="234.84" width="40.20" height="6.80" fill="#ececec" />
<polygon points="485.28,238.24 489.02,234.84 497.41,234.84 501.15,238.24 497.41,241.64 489.02,241.64" fill="#060606" />
<polygon points="472.60,234.84 477.75,234.84 481.49,238.24 477.75,241.64 472.60,241.64" fill="#161618" />
<polygon points="512.80,234.84 508.69,234.84 504.95,238.24 508.69,241.64 512.80,241.64" fill="#161618" />
<rect x="472.60" y="241.64" width="40.20" height="6.86" fill="#ececec" />
<rect x="474.20" y="247.20" width="0.80" height="1.30" fill="#444" />
<rect x="483.25" y="247.20" width="0.80" height="1.30" fill="#444" />
<rect x="492.30" y="247.20" width="0.80" height="1.30" fill="#444" />
<rect x="501.35" y="247.20" width="0.80" height="1.30" fill="#444" />
<rect x="510.40" y="247.20" width="0.80" height="1.30" fill="#444" />
<rect x="472.60" y="190.68" width="40.20" height="1.45" fill="#23922a" />
<rect x="472.60" y="193.58" width="40.20" height="1.45" fill="#23922a" />
</g>
<circle cx="481.00" cy="195.10" r="5.7" fill="none" stroke="#222" stroke-width="2.2" opacity="0.55"/>
<circle cx="481.00" cy="195.10" r="5.7" fill="none" stroke="#fff" stroke-width="1.2"/>
<text x="481.00" y="199.00" font-size="10.5" font-weight="normal" font-style="normal" text-anchor="middle" fill="#fff" stroke="#fff" stroke-width="0.45">2</text>
<rect x="520.90" y="186.50" width="41.60" height="62.30" fill="#000" />
<clipPath id="cl11"><rect x="520.90" y="186.50" width="41.60" height="62.30"/></clipPath><g clip-path="url(#cl11)">
<rect x="521.50" y="187.00" width="40.40" height="61.50" fill="#2a2a2c" />
<rect x="521.50" y="187.00" width="40.40" height="4.91" fill="#a09c92" />
<rect x="521.50" y="191.91" width="40.40" height="2.20" fill="#7a6e5a" />
<rect x="521.50" y="194.11" width="40.40" height="9.81" fill="#c3c0bb" />
<rect x="521.50" y="203.92" width="40.40" height="4.00" fill="#d4d3cf" />
<polygon points="534.24,205.92 536.44,203.92 548.00,203.92 550.20,205.92 548.00,207.92 536.44,207.92" fill="#060606" />
<polygon points="521.50,203.92 528.24,203.92 530.44,205.92 528.24,207.92 521.50,207.92" fill="#161618" />
<polygon points="561.90,203.92 556.20,203.92 554.00,205.92 556.20,207.92 561.90,207.92" fill="#161618" />
<rect x="521.50" y="207.92" width="40.40" height="9.81" fill="#e5e5e4" />
<rect x="521.50" y="217.73" width="40.40" height="6.80" fill="#ececec" />
<polygon points="534.24,221.13 537.98,217.73 546.46,217.73 550.20,221.13 546.46,224.53 537.98,224.53" fill="#060606" />
<polygon points="521.50,217.73 526.70,217.73 530.44,221.13 526.70,224.53 521.50,224.53" fill="#161618" />
<polygon points="561.90,217.73 557.74,217.73 554.00,221.13 557.74,224.53 561.90,224.53" fill="#161618" />
<rect x="521.50" y="224.53" width="40.40" height="9.81" fill="#ececec" />
<rect x="521.50" y="234.34" width="40.40" height="6.80" fill="#ececec" />
<polygon points="534.24,237.74 537.98,234.34 546.46,234.34 550.20,237.74 546.46,241.14 537.98,241.14" fill="#060606" />
<polygon points="521.50,234.34 526.70,234.34 530.44,237.74 526.70,241.14 521.50,241.14" fill="#161618" />
<polygon points="561.90,234.34 557.74,234.34 554.00,237.74 557.74,241.14 561.90,241.14" fill="#161618" />
<rect x="521.50" y="241.14" width="40.40" height="7.36" fill="#ececec" />
<rect x="523.10" y="247.20" width="0.80" height="1.30" fill="#444" />
<rect x="532.20" y="247.20" width="0.80" height="1.30" fill="#444" />
<rect x="541.30" y="247.20" width="0.80" height="1.30" fill="#444" />
<rect x="550.40" y="247.20" width="0.80" height="1.30" fill="#444" />
<rect x="559.50" y="247.20" width="0.80" height="1.30" fill="#444" />
<rect x="521.50" y="191.01" width="40.40" height="1.45" fill="#23922a" />
<rect x="521.50" y="193.91" width="40.40" height="1.45" fill="#23922a" />
<rect x="521.50" y="207.32" width="40.40" height="1.45" fill="#23922a" />
</g>
<circle cx="529.90" cy="195.10" r="5.7" fill="none" stroke="#222" stroke-width="2.2" opacity="0.55"/>
<circle cx="529.90" cy="195.10" r="5.7" fill="none" stroke="#fff" stroke-width="1.2"/>
<text x="529.90" y="199.00" font-size="10.5" font-weight="normal" font-style="normal" text-anchor="middle" fill="#fff" stroke="#fff" stroke-width="0.45">3</text>
<rect x="569.50" y="186.50" width="42.00" height="62.30" fill="#000" />
<clipPath id="cl12"><rect x="569.50" y="186.50" width="42.00" height="62.30"/></clipPath><g clip-path="url(#cl12)">
<rect x="570.10" y="194.00" width="40.80" height="54.50" fill="#2a2a2c" />
<rect x="570.10" y="194.00" width="40.80" height="4.29" fill="#a09c92" />
<rect x="570.10" y="198.29" width="40.80" height="2.20" fill="#7a6e5a" />
<rect x="570.10" y="200.49" width="40.80" height="8.59" fill="#e3e1dd" />
<rect x="570.10" y="209.08" width="40.80" height="2.20" fill="#7a6e5a" />
<rect x="570.10" y="211.28" width="40.80" height="8.59" fill="#e3e1dd" />
<rect x="570.10" y="219.87" width="40.80" height="6.80" fill="#ececec" />
<polygon points="582.95,223.27 586.69,219.87 595.36,219.87 599.10,223.27 595.36,226.67 586.69,226.67" fill="#060606" />
<polygon points="570.10,219.87 575.41,219.87 579.15,223.27 575.41,226.67 570.10,226.67" fill="#161618" />
<polygon points="610.90,219.87 606.64,219.87 602.90,223.27 606.64,226.67 610.90,226.67" fill="#161618" />
<rect x="570.10" y="226.67" width="40.80" height="8.59" fill="#ececec" />
<rect x="570.10" y="235.26" width="40.80" height="6.80" fill="#ececec" />
<polygon points="582.95,238.66 586.69,235.26 595.36,235.26 599.10,238.66 595.36,242.06 586.69,242.06" fill="#060606" />
<polygon points="570.10,235.26 575.41,235.26 579.15,238.66 575.41,242.06 570.10,242.06" fill="#161618" />
<polygon points="610.90,235.26 606.64,235.26 602.90,238.66 606.64,242.06 610.90,242.06" fill="#161618" />
<rect x="570.10" y="242.06" width="40.80" height="6.44" fill="#ececec" />
<rect x="571.70" y="247.20" width="0.80" height="1.30" fill="#444" />
<rect x="580.90" y="247.20" width="0.80" height="1.30" fill="#444" />
<rect x="590.10" y="247.20" width="0.80" height="1.30" fill="#444" />
<rect x="599.30" y="247.20" width="0.80" height="1.30" fill="#444" />
<rect x="608.50" y="247.20" width="0.80" height="1.30" fill="#444" />
<rect x="570.10" y="197.39" width="40.80" height="1.45" fill="#23922a" />
<rect x="570.10" y="200.29" width="40.80" height="1.45" fill="#23922a" />
<rect x="570.10" y="208.18" width="40.80" height="1.45" fill="#23922a" />
<rect x="570.10" y="211.08" width="40.80" height="1.45" fill="#23922a" />
</g>
<circle cx="578.50" cy="195.10" r="5.7" fill="none" stroke="#222" stroke-width="2.2" opacity="0.55"/>
<circle cx="578.50" cy="195.10" r="5.7" fill="none" stroke="#fff" stroke-width="1.2"/>
<text x="578.50" y="199.00" font-size="10.5" font-weight="normal" font-style="normal" text-anchor="middle" fill="#fff" stroke="#fff" stroke-width="0.45">4</text>
<rect x="423.20" y="253.40" width="41.80" height="62.60" fill="#000" />
<clipPath id="cl13"><rect x="423.20" y="253.40" width="41.80" height="62.60"/></clipPath><g clip-path="url(#cl13)">
<rect x="423.80" y="267.00" width="40.60" height="48.70" fill="#2a2a2c" />
<rect x="423.80" y="267.00" width="40.60" height="3.94" fill="#a09c92" />
<rect x="423.80" y="270.94" width="40.60" height="2.20" fill="#7a6e5a" />
<rect x="423.80" y="273.14" width="40.60" height="7.88" fill="#e3e1dd" />
<rect x="423.80" y="281.02" width="40.60" height="2.20" fill="#7a6e5a" />
<rect x="423.80" y="283.22" width="40.60" height="7.88" fill="#e3e1dd" />
<rect x="423.80" y="291.11" width="40.60" height="4.00" fill="#ececec" />
<polygon points="436.59,293.11 438.79,291.11 450.45,291.11 452.65,293.11 450.45,295.11 438.79,295.11" fill="#060606" />
<polygon points="423.80,291.11 430.60,291.11 432.80,293.11 430.60,295.11 423.80,295.11" fill="#161618" />
<polygon points="464.40,291.11 458.65,291.11 456.45,293.11 458.65,295.11 464.40,295.11" fill="#161618" />
<rect x="423.80" y="295.11" width="40.60" height="7.88" fill="#ececec" />
<rect x="423.80" y="302.99" width="40.60" height="6.80" fill="#ececec" />
<polygon points="436.59,306.39 440.33,302.99 448.91,302.99 452.65,306.39 448.91,309.79 440.33,309.79" fill="#060606" />
<polygon points="423.80,302.99 429.06,302.99 432.80,306.39 429.06,309.79 423.80,309.79" fill="#161618" />
<polygon points="464.40,302.99 460.19,302.99 456.45,306.39 460.19,309.79 464.40,309.79" fill="#161618" />
<rect x="423.80" y="309.79" width="40.60" height="5.91" fill="#ececec" />
<rect x="425.40" y="314.40" width="0.80" height="1.30" fill="#444" />
<rect x="434.55" y="314.40" width="0.80" height="1.30" fill="#444" />
<rect x="443.70" y="314.40" width="0.80" height="1.30" fill="#444" />
<rect x="452.85" y="314.40" width="0.80" height="1.30" fill="#444" />
<rect x="462.00" y="314.40" width="0.80" height="1.30" fill="#444" />
<rect x="423.80" y="270.04" width="40.60" height="1.45" fill="#23922a" />
<rect x="423.80" y="272.94" width="40.60" height="1.45" fill="#23922a" />
<rect x="423.80" y="280.12" width="40.60" height="1.45" fill="#23922a" />
<rect x="423.80" y="283.02" width="40.60" height="1.45" fill="#23922a" />
<rect x="423.80" y="294.51" width="40.60" height="1.45" fill="#23922a" />
</g>
<circle cx="432.20" cy="262.00" r="5.7" fill="none" stroke="#222" stroke-width="2.2" opacity="0.55"/>
<circle cx="432.20" cy="262.00" r="5.7" fill="none" stroke="#fff" stroke-width="1.2"/>
<text x="432.20" y="265.90" font-size="10.5" font-weight="normal" font-style="normal" text-anchor="middle" fill="#fff" stroke="#fff" stroke-width="0.45">5</text>
<rect x="472.00" y="253.40" width="41.40" height="62.60" fill="#000" />
<clipPath id="cl14"><rect x="472.00" y="253.40" width="41.40" height="62.60"/></clipPath><g clip-path="url(#cl14)">
<rect x="472.60" y="271.00" width="40.20" height="44.70" fill="#2a2a2c" />
<rect x="472.60" y="271.00" width="40.20" height="3.68" fill="#a09c92" />
<rect x="472.60" y="274.68" width="40.20" height="2.20" fill="#7a6e5a" />
<rect x="472.60" y="276.88" width="40.20" height="7.36" fill="#e3e1dd" />
<rect x="472.60" y="284.25" width="40.20" height="2.20" fill="#7a6e5a" />
<rect x="472.60" y="286.45" width="40.20" height="7.36" fill="#e3e1dd" />
<rect x="472.60" y="293.81" width="40.20" height="2.20" fill="#7a6e5a" />
<rect x="472.60" y="296.01" width="40.20" height="7.36" fill="#e3e1dd" />
<rect x="472.60" y="303.38" width="40.20" height="6.80" fill="#ececec" />
<polygon points="485.28,306.78 489.02,303.38 497.41,303.38 501.15,306.78 497.41,310.18 489.02,310.18" fill="#060606" />
<polygon points="472.60,303.38 477.75,303.38 481.49,306.78 477.75,310.18 472.60,310.18" fill="#161618" />
<polygon points="512.80,303.38 508.69,303.38 504.95,306.78 508.69,310.18 512.80,310.18" fill="#161618" />
<rect x="472.60" y="310.18" width="40.20" height="5.52" fill="#ececec" />
<rect x="474.20" y="314.40" width="0.80" height="1.30" fill="#444" />
<rect x="483.25" y="314.40" width="0.80" height="1.30" fill="#444" />
<rect x="492.30" y="314.40" width="0.80" height="1.30" fill="#444" />
<rect x="501.35" y="314.40" width="0.80" height="1.30" fill="#444" />
<rect x="510.40" y="314.40" width="0.80" height="1.30" fill="#444" />
<rect x="472.60" y="273.78" width="40.20" height="1.45" fill="#23922a" />
<rect x="472.60" y="276.68" width="40.20" height="1.45" fill="#23922a" />
<rect x="472.60" y="283.35" width="40.20" height="1.45" fill="#23922a" />
<rect x="472.60" y="286.25" width="40.20" height="1.45" fill="#23922a" />
<rect x="472.60" y="292.91" width="40.20" height="1.45" fill="#23922a" />
<rect x="472.60" y="295.81" width="40.20" height="1.45" fill="#23922a" />
</g>
<circle cx="481.00" cy="262.00" r="5.7" fill="none" stroke="#222" stroke-width="2.2" opacity="0.55"/>
<circle cx="481.00" cy="262.00" r="5.7" fill="none" stroke="#fff" stroke-width="1.2"/>
<text x="481.00" y="265.90" font-size="10.5" font-weight="normal" font-style="normal" text-anchor="middle" fill="#fff" stroke="#fff" stroke-width="0.45">6</text>
<rect x="520.90" y="253.40" width="41.60" height="62.60" fill="#000" />
<clipPath id="cl15"><rect x="520.90" y="253.40" width="41.60" height="62.60"/></clipPath><g clip-path="url(#cl15)">
<rect x="521.50" y="272.70" width="40.40" height="43.00" fill="#2a2a2c" />
<rect x="521.50" y="272.70" width="40.40" height="3.81" fill="#a09c92" />
<rect x="521.50" y="276.51" width="40.40" height="2.20" fill="#7a6e5a" />
<rect x="521.50" y="278.71" width="40.40" height="7.62" fill="#e3e1dd" />
<rect x="521.50" y="286.34" width="40.40" height="2.20" fill="#7a6e5a" />
<rect x="521.50" y="288.54" width="40.40" height="7.62" fill="#e3e1dd" />
<rect x="521.50" y="296.16" width="40.40" height="2.20" fill="#7a6e5a" />
<rect x="521.50" y="298.36" width="40.40" height="7.62" fill="#e3e1dd" />
<rect x="521.50" y="305.98" width="40.40" height="4.00" fill="#ececec" />
<polygon points="534.24,307.98 536.44,305.98 548.00,305.98 550.20,307.98 548.00,309.98 536.44,309.98" fill="#060606" />
<polygon points="521.50,305.98 528.24,305.98 530.44,307.98 528.24,309.98 521.50,309.98" fill="#161618" />
<polygon points="561.90,305.98 556.20,305.98 554.00,307.98 556.20,309.98 561.90,309.98" fill="#161618" />
<rect x="521.50" y="309.98" width="40.40" height="5.72" fill="#ececec" />
<rect x="523.10" y="314.40" width="0.80" height="1.30" fill="#444" />
<rect x="532.20" y="314.40" width="0.80" height="1.30" fill="#444" />
<rect x="541.30" y="314.40" width="0.80" height="1.30" fill="#444" />
<rect x="550.40" y="314.40" width="0.80" height="1.30" fill="#444" />
<rect x="559.50" y="314.40" width="0.80" height="1.30" fill="#444" />
<rect x="521.50" y="275.61" width="40.40" height="1.45" fill="#23922a" />
<rect x="521.50" y="278.51" width="40.40" height="1.45" fill="#23922a" />
<rect x="521.50" y="285.44" width="40.40" height="1.45" fill="#23922a" />
<rect x="521.50" y="288.34" width="40.40" height="1.45" fill="#23922a" />
<rect x="521.50" y="295.26" width="40.40" height="1.45" fill="#23922a" />
<rect x="521.50" y="298.16" width="40.40" height="1.45" fill="#23922a" />
<rect x="521.50" y="309.38" width="40.40" height="1.45" fill="#23922a" />
</g>
<circle cx="529.90" cy="262.00" r="5.7" fill="none" stroke="#222" stroke-width="2.2" opacity="0.55"/>
<circle cx="529.90" cy="262.00" r="5.7" fill="none" stroke="#fff" stroke-width="1.2"/>
<text x="529.90" y="265.90" font-size="10.5" font-weight="normal" font-style="normal" text-anchor="middle" fill="#fff" stroke="#fff" stroke-width="0.45">7</text>
<rect x="569.50" y="253.40" width="42.00" height="62.60" fill="#000" />
<clipPath id="cl16"><rect x="569.50" y="253.40" width="42.00" height="62.60"/></clipPath><g clip-path="url(#cl16)">
<rect x="570.10" y="276.70" width="40.80" height="39.00" fill="#2a2a2c" />
<rect x="570.10" y="276.70" width="40.80" height="3.55" fill="#a09c92" />
<rect x="570.10" y="280.25" width="40.80" height="2.20" fill="#7a6e5a" />
<rect x="570.10" y="282.45" width="40.80" height="7.11" fill="#e3e1dd" />
<rect x="570.10" y="289.56" width="40.80" height="2.20" fill="#7a6e5a" />
<rect x="570.10" y="291.76" width="40.80" height="7.11" fill="#e3e1dd" />
<rect x="570.10" y="298.86" width="40.80" height="2.20" fill="#7a6e5a" />
<rect x="570.10" y="301.06" width="40.80" height="7.11" fill="#e3e1dd" />
<rect x="570.10" y="308.17" width="40.80" height="2.20" fill="#7a6e5a" />
<rect x="570.10" y="310.37" width="40.80" height="5.33" fill="#e3e1dd" />
<rect x="571.70" y="314.40" width="0.80" height="1.30" fill="#444" />
<rect x="580.90" y="314.40" width="0.80" height="1.30" fill="#444" />
<rect x="590.10" y="314.40" width="0.80" height="1.30" fill="#444" />
<rect x="599.30" y="314.40" width="0.80" height="1.30" fill="#444" />
<rect x="608.50" y="314.40" width="0.80" height="1.30" fill="#444" />
<rect x="570.10" y="279.35" width="40.80" height="1.45" fill="#23922a" />
<rect x="570.10" y="282.25" width="40.80" height="1.45" fill="#23922a" />
<rect x="570.10" y="288.66" width="40.80" height="1.45" fill="#23922a" />
<rect x="570.10" y="291.56" width="40.80" height="1.45" fill="#23922a" />
<rect x="570.10" y="297.96" width="40.80" height="1.45" fill="#23922a" />
<rect x="570.10" y="300.86" width="40.80" height="1.45" fill="#23922a" />
<rect x="570.10" y="307.27" width="40.80" height="1.45" fill="#23922a" />
<rect x="570.10" y="310.17" width="40.80" height="1.45" fill="#23922a" />
</g>
<circle cx="578.50" cy="262.00" r="5.7" fill="none" stroke="#222" stroke-width="2.2" opacity="0.55"/>
<circle cx="578.50" cy="262.00" r="5.7" fill="none" stroke="#fff" stroke-width="1.2"/>
<text x="578.50" y="265.90" font-size="10.5" font-weight="normal" font-style="normal" text-anchor="middle" fill="#fff" stroke="#fff" stroke-width="0.45">8</text>
<rect x="424.20" y="360.00" width="189.70" height="132.80" fill="#000" />
<rect x="467.80" y="361.20" width="5.70" height="130.40" fill="#fff" />
<rect x="516.20" y="361.20" width="6.30" height="130.40" fill="#fff" />
<rect x="565.40" y="361.20" width="5.60" height="130.40" fill="#fff" />
<rect x="425.40" y="424.70" width="187.30" height="4.60" fill="#fff" />
<rect x="424.80" y="360.80" width="42.40" height="63.90" fill="#000" />
<clipPath id="cl17"><rect x="424.80" y="360.80" width="42.40" height="63.90"/></clipPath><g clip-path="url(#cl17)">
<rect x="425.40" y="361.50" width="41.20" height="62.90" fill="#2a2a2c" />
<rect x="425.40" y="361.50" width="41.20" height="4.53" fill="#a09c92" />
<rect x="425.40" y="366.03" width="41.20" height="6.80" fill="#b1aea6" />
<polygon points="438.36,369.43 442.10,366.03 450.96,366.03 454.70,369.43 450.96,372.83 442.10,372.83" fill="#060606" />
<polygon points="425.40,366.03 430.82,366.03 434.56,369.43 430.82,372.83 425.40,372.83" fill="#161618" />
<polygon points="466.60,366.03 462.24,366.03 458.50,369.43 462.24,372.83 466.60,372.83" fill="#161618" />
<rect x="425.40" y="372.83" width="41.20" height="9.06" fill="#c3c0bb" />
<rect x="425.40" y="381.89" width="41.20" height="6.80" fill="#d4d3cf" />
<polygon points="438.36,385.29 442.10,381.89 450.96,381.89 454.70,385.29 450.96,388.69 442.10,388.69" fill="#060606" />
<polygon points="425.40,381.89 430.82,381.89 434.56,385.29 430.82,388.69 425.40,388.69" fill="#161618" />
<polygon points="466.60,381.89 462.24,381.89 458.50,385.29 462.24,388.69 466.60,388.69" fill="#161618" />
<rect x="425.40" y="388.69" width="41.20" height="9.06" fill="#e5e5e4" />
<rect x="425.40" y="397.75" width="41.20" height="6.80" fill="#ececec" />
<polygon points="438.36,401.15 442.10,397.75 450.96,397.75 454.70,401.15 450.96,404.55 442.10,404.55" fill="#060606" />
<polygon points="425.40,397.75 430.82,397.75 434.56,401.15 430.82,404.55 425.40,404.55" fill="#161618" />
<polygon points="466.60,397.75 462.24,397.75 458.50,401.15 462.24,404.55 466.60,404.55" fill="#161618" />
<rect x="425.40" y="404.55" width="41.20" height="9.06" fill="#ececec" />
<rect x="425.40" y="413.61" width="41.20" height="4.00" fill="#ececec" />
<polygon points="438.36,415.61 440.56,413.61 452.50,413.61 454.70,415.61 452.50,417.61 440.56,417.61" fill="#060606" />
<polygon points="425.40,413.61 432.36,413.61 434.56,415.61 432.36,417.61 425.40,417.61" fill="#161618" />
<polygon points="466.60,413.61 460.70,413.61 458.50,415.61 460.70,417.61 466.60,417.61" fill="#161618" />
<rect x="425.40" y="417.61" width="41.20" height="6.79" fill="#ececec" />
<rect x="427.00" y="423.10" width="0.80" height="1.30" fill="#444" />
<rect x="436.30" y="423.10" width="0.80" height="1.30" fill="#444" />
<rect x="445.60" y="423.10" width="0.80" height="1.30" fill="#444" />
<rect x="454.90" y="423.10" width="0.80" height="1.30" fill="#444" />
<rect x="464.20" y="423.10" width="0.80" height="1.30" fill="#444" />
<rect x="425.40" y="417.01" width="41.20" height="1.45" fill="#23922a" />
</g>
<circle cx="433.80" cy="369.40" r="5.7" fill="none" stroke="#222" stroke-width="2.2" opacity="0.55"/>
<circle cx="433.80" cy="369.40" r="5.7" fill="none" stroke="#fff" stroke-width="1.2"/>
<text x="433.80" y="373.30" font-size="10.5" font-weight="normal" font-style="normal" text-anchor="middle" fill="#fff" stroke="#fff" stroke-width="0.45">1</text>
<rect x="474.30" y="360.80" width="41.50" height="63.90" fill="#000" />
<clipPath id="cl18"><rect x="474.30" y="360.80" width="41.50" height="63.90"/></clipPath><g clip-path="url(#cl18)">
<rect x="474.90" y="364.70" width="40.30" height="59.70" fill="#2a2a2c" />
<rect x="474.90" y="364.70" width="40.30" height="4.36" fill="#a09c92" />
<rect x="474.90" y="369.06" width="40.30" height="6.80" fill="#b1aea6" />
<polygon points="487.61,372.46 491.35,369.06 499.78,369.06 503.52,372.46 499.78,375.86 491.35,375.86" fill="#060606" />
<polygon points="474.90,369.06 480.07,369.06 483.81,372.46 480.07,375.86 474.90,375.86" fill="#161618" />
<polygon points="515.20,369.06 511.06,369.06 507.32,372.46 511.06,375.86 515.20,375.86" fill="#161618" />
<rect x="474.90" y="375.86" width="40.30" height="8.73" fill="#c3c0bb" />
<rect x="474.90" y="384.59" width="40.30" height="6.80" fill="#d4d3cf" />
<polygon points="487.61,387.99 491.35,384.59 499.78,384.59 503.52,387.99 499.78,391.39 491.35,391.39" fill="#060606" />
<polygon points="474.90,384.59 480.07,384.59 483.81,387.99 480.07,391.39 474.90,391.39" fill="#161618" />
<polygon points="515.20,384.59 511.06,384.59 507.32,387.99 511.06,391.39 515.20,391.39" fill="#161618" />
<rect x="474.90" y="391.39" width="40.30" height="8.73" fill="#e5e5e4" />
<rect x="474.90" y="400.12" width="40.30" height="6.80" fill="#ececec" />
<polygon points="487.61,403.52 491.35,400.12 499.78,400.12 503.52,403.52 499.78,406.92 491.35,406.92" fill="#060606" />
<polygon points="474.90,400.12 480.07,400.12 483.81,403.52 480.07,406.92 474.90,406.92" fill="#161618" />
<polygon points="515.20,400.12 511.06,400.12 507.32,403.52 511.06,406.92 515.20,406.92" fill="#161618" />
<rect x="474.90" y="406.92" width="40.30" height="8.73" fill="#e3e1dd" />
<rect x="474.90" y="415.65" width="40.30" height="2.20" fill="#7a6e5a" />
<rect x="474.90" y="417.85" width="40.30" height="6.55" fill="#e3e1dd" />
<rect x="476.50" y="423.10" width="0.80" height="1.30" fill="#444" />
<rect x="485.58" y="423.10" width="0.80" height="1.30" fill="#444" />
<rect x="494.65" y="423.10" width="0.80" height="1.30" fill="#444" />
<rect x="503.72" y="423.10" width="0.80" height="1.30" fill="#444" />
<rect x="512.80" y="423.10" width="0.80" height="1.30" fill="#444" />
<rect x="474.90" y="414.75" width="40.30" height="1.45" fill="#23922a" />
<rect x="474.90" y="417.65" width="40.30" height="1.45" fill="#23922a" />
</g>
<circle cx="483.30" cy="369.40" r="5.7" fill="none" stroke="#222" stroke-width="2.2" opacity="0.55"/>
<circle cx="483.30" cy="369.40" r="5.7" fill="none" stroke="#fff" stroke-width="1.2"/>
<text x="483.30" y="373.30" font-size="10.5" font-weight="normal" font-style="normal" text-anchor="middle" fill="#fff" stroke="#fff" stroke-width="0.45">2</text>
<rect x="523.10" y="360.80" width="41.50" height="63.90" fill="#000" />
<clipPath id="cl19"><rect x="523.10" y="360.80" width="41.50" height="63.90"/></clipPath><g clip-path="url(#cl19)">
<rect x="523.70" y="367.20" width="40.30" height="57.20" fill="#2a2a2c" />
<rect x="523.70" y="367.20" width="40.30" height="4.61" fill="#a09c92" />
<rect x="523.70" y="371.81" width="40.30" height="6.80" fill="#b1aea6" />
<polygon points="536.41,375.21 540.15,371.81 548.59,371.81 552.33,375.21 548.59,378.61 540.15,378.61" fill="#060606" />
<polygon points="523.70,371.81 528.87,371.81 532.61,375.21 528.87,378.61 523.70,378.61" fill="#161618" />
<polygon points="564.00,371.81 559.87,371.81 556.12,375.21 559.87,378.61 564.00,378.61" fill="#161618" />
<rect x="523.70" y="378.61" width="40.30" height="9.22" fill="#c3c0bb" />
<rect x="523.70" y="387.84" width="40.30" height="6.80" fill="#d4d3cf" />
<polygon points="536.41,391.24 540.15,387.84 548.59,387.84 552.33,391.24 548.59,394.64 540.15,394.64" fill="#060606" />
<polygon points="523.70,387.84 528.87,387.84 532.61,391.24 528.87,394.64 523.70,394.64" fill="#161618" />
<polygon points="564.00,387.84 559.87,387.84 556.12,391.24 559.87,394.64 564.00,394.64" fill="#161618" />
<rect x="523.70" y="394.64" width="40.30" height="9.22" fill="#e3e1dd" />
<rect x="523.70" y="403.86" width="40.30" height="2.20" fill="#7a6e5a" />
<rect x="523.70" y="406.06" width="40.30" height="9.22" fill="#e3e1dd" />
<rect x="523.70" y="415.28" width="40.30" height="2.20" fill="#7a6e5a" />
<rect x="523.70" y="417.48" width="40.30" height="6.92" fill="#e3e1dd" />
<rect x="525.30" y="423.10" width="0.80" height="1.30" fill="#444" />
<rect x="534.38" y="423.10" width="0.80" height="1.30" fill="#444" />
<rect x="543.45" y="423.10" width="0.80" height="1.30" fill="#444" />
<rect x="552.52" y="423.10" width="0.80" height="1.30" fill="#444" />
<rect x="561.60" y="423.10" width="0.80" height="1.30" fill="#444" />
<rect x="523.70" y="402.96" width="40.30" height="1.45" fill="#23922a" />
<rect x="523.70" y="405.86" width="40.30" height="1.45" fill="#23922a" />
<rect x="523.70" y="414.38" width="40.30" height="1.45" fill="#23922a" />
<rect x="523.70" y="417.28" width="40.30" height="1.45" fill="#23922a" />
</g>
<circle cx="532.10" cy="369.40" r="5.7" fill="none" stroke="#222" stroke-width="2.2" opacity="0.55"/>
<circle cx="532.10" cy="369.40" r="5.7" fill="none" stroke="#fff" stroke-width="1.2"/>
<text x="532.10" y="373.30" font-size="10.5" font-weight="normal" font-style="normal" text-anchor="middle" fill="#fff" stroke="#fff" stroke-width="0.45">3</text>
<rect x="571.70" y="360.80" width="40.70" height="63.90" fill="#000" />
<clipPath id="cl20"><rect x="571.70" y="360.80" width="40.70" height="63.90"/></clipPath><g clip-path="url(#cl20)">
<rect x="572.30" y="371.20" width="39.50" height="53.20" fill="#2a2a2c" />
<rect x="572.30" y="371.20" width="39.50" height="4.14" fill="#a09c92" />
<rect x="572.30" y="375.34" width="39.50" height="6.80" fill="#b1aea6" />
<polygon points="584.79,378.74 588.53,375.34 596.59,375.34 600.33,378.74 596.59,382.14 588.53,382.14" fill="#060606" />
<polygon points="572.30,375.34 577.25,375.34 580.99,378.74 577.25,382.14 572.30,382.14" fill="#161618" />
<polygon points="611.80,375.34 607.87,375.34 604.12,378.74 607.87,382.14 611.80,382.14" fill="#161618" />
<rect x="572.30" y="382.14" width="39.50" height="8.28" fill="#c3c0bb" />
<rect x="572.30" y="390.42" width="39.50" height="6.80" fill="#d4d3cf" />
<polygon points="584.79,393.82 588.53,390.42 596.59,390.42 600.33,393.82 596.59,397.22 588.53,397.22" fill="#060606" />
<polygon points="572.30,390.42 577.25,390.42 580.99,393.82 577.25,397.22 572.30,397.22" fill="#161618" />
<polygon points="611.80,390.42 607.87,390.42 604.12,393.82 607.87,397.22 611.80,397.22" fill="#161618" />
<rect x="572.30" y="397.22" width="39.50" height="8.28" fill="#e3e1dd" />
<rect x="572.30" y="405.51" width="39.50" height="2.20" fill="#7a6e5a" />
<rect x="572.30" y="407.71" width="39.50" height="8.28" fill="#e3e1dd" />
<rect x="572.30" y="415.99" width="39.50" height="2.20" fill="#7a6e5a" />
<rect x="572.30" y="418.19" width="39.50" height="6.21" fill="#e3e1dd" />
<rect x="573.90" y="423.10" width="0.80" height="1.30" fill="#444" />
<rect x="582.78" y="423.10" width="0.80" height="1.30" fill="#444" />
<rect x="591.65" y="423.10" width="0.80" height="1.30" fill="#444" />
<rect x="600.52" y="423.10" width="0.80" height="1.30" fill="#444" />
<rect x="609.40" y="423.10" width="0.80" height="1.30" fill="#444" />
<rect x="572.30" y="404.61" width="39.50" height="1.45" fill="#23922a" />
<rect x="572.30" y="407.51" width="39.50" height="1.45" fill="#23922a" />
<rect x="572.30" y="415.09" width="39.50" height="1.45" fill="#23922a" />
<rect x="572.30" y="417.99" width="39.50" height="1.45" fill="#23922a" />
</g>
<circle cx="580.70" cy="369.40" r="5.7" fill="none" stroke="#222" stroke-width="2.2" opacity="0.55"/>
<circle cx="580.70" cy="369.40" r="5.7" fill="none" stroke="#fff" stroke-width="1.2"/>
<text x="580.70" y="373.30" font-size="10.5" font-weight="normal" font-style="normal" text-anchor="middle" fill="#fff" stroke="#fff" stroke-width="0.45">4</text>
<rect x="424.80" y="429.30" width="42.40" height="62.30" fill="#000" />
<clipPath id="cl21"><rect x="424.80" y="429.30" width="42.40" height="62.30"/></clipPath><g clip-path="url(#cl21)">
<rect x="425.40" y="442.80" width="41.20" height="48.50" fill="#2a2a2c" />
<rect x="425.40" y="442.80" width="41.20" height="3.92" fill="#a09c92" />
<rect x="425.40" y="446.72" width="41.20" height="6.80" fill="#b1aea6" />
<polygon points="438.36,450.12 442.10,446.72 450.96,446.72 454.70,450.12 450.96,453.52 442.10,453.52" fill="#060606" />
<polygon points="425.40,446.72 430.82,446.72 434.56,450.12 430.82,453.52 425.40,453.52" fill="#161618" />
<polygon points="466.60,446.72 462.24,446.72 458.50,450.12 462.24,453.52 466.60,453.52" fill="#161618" />
<rect x="425.40" y="453.52" width="41.20" height="7.84" fill="#c3c0bb" />
<rect x="425.40" y="461.35" width="41.20" height="4.00" fill="#d4d3cf" />
<polygon points="438.36,463.35 440.56,461.35 452.50,461.35 454.70,463.35 452.50,465.35 440.56,465.35" fill="#060606" />
<polygon points="425.40,461.35 432.36,461.35 434.56,463.35 432.36,465.35 425.40,465.35" fill="#161618" />
<polygon points="466.60,461.35 460.70,461.35 458.50,463.35 460.70,465.35 466.60,465.35" fill="#161618" />
<rect x="425.40" y="465.35" width="41.20" height="7.84" fill="#e3e1dd" />
<rect x="425.40" y="473.19" width="41.20" height="2.20" fill="#7a6e5a" />
<rect x="425.40" y="475.39" width="41.20" height="7.84" fill="#e3e1dd" />
<rect x="425.40" y="483.22" width="41.20" height="2.20" fill="#7a6e5a" />
<rect x="425.40" y="485.42" width="41.20" height="5.88" fill="#e3e1dd" />
<rect x="427.00" y="490.00" width="0.80" height="1.30" fill="#444" />
<rect x="436.30" y="490.00" width="0.80" height="1.30" fill="#444" />
<rect x="445.60" y="490.00" width="0.80" height="1.30" fill="#444" />
<rect x="454.90" y="490.00" width="0.80" height="1.30" fill="#444" />
<rect x="464.20" y="490.00" width="0.80" height="1.30" fill="#444" />
<rect x="425.40" y="464.75" width="41.20" height="1.45" fill="#23922a" />
<rect x="425.40" y="472.29" width="41.20" height="1.45" fill="#23922a" />
<rect x="425.40" y="475.19" width="41.20" height="1.45" fill="#23922a" />
<rect x="425.40" y="482.32" width="41.20" height="1.45" fill="#23922a" />
<rect x="425.40" y="485.22" width="41.20" height="1.45" fill="#23922a" />
</g>
<circle cx="433.80" cy="437.90" r="5.7" fill="none" stroke="#222" stroke-width="2.2" opacity="0.55"/>
<circle cx="433.80" cy="437.90" r="5.7" fill="none" stroke="#fff" stroke-width="1.2"/>
<text x="433.80" y="441.80" font-size="10.5" font-weight="normal" font-style="normal" text-anchor="middle" fill="#fff" stroke="#fff" stroke-width="0.45">5</text>
<rect x="474.30" y="429.30" width="41.50" height="62.30" fill="#000" />
<clipPath id="cl22"><rect x="474.30" y="429.30" width="41.50" height="62.30"/></clipPath><g clip-path="url(#cl22)">
<rect x="474.90" y="445.30" width="40.30" height="46.00" fill="#2a2a2c" />
<rect x="474.90" y="445.30" width="40.30" height="3.84" fill="#a09c92" />
<rect x="474.90" y="449.14" width="40.30" height="6.80" fill="#b1aea6" />
<polygon points="487.61,452.54 491.35,449.14 499.78,449.14 503.52,452.54 499.78,455.94 491.35,455.94" fill="#060606" />
<polygon points="474.90,449.14 480.07,449.14 483.81,452.54 480.07,455.94 474.90,455.94" fill="#161618" />
<polygon points="515.20,449.14 511.06,449.14 507.32,452.54 511.06,455.94 515.20,455.94" fill="#161618" />
<rect x="474.90" y="455.94" width="40.30" height="7.67" fill="#c3c0bb" />
<rect x="474.90" y="463.61" width="40.30" height="2.20" fill="#7a6e5a" />
<rect x="474.90" y="465.81" width="40.30" height="7.67" fill="#e3e1dd" />
<rect x="474.90" y="473.48" width="40.30" height="2.20" fill="#7a6e5a" />
<rect x="474.90" y="475.68" width="40.30" height="7.67" fill="#e3e1dd" />
<rect x="474.90" y="483.35" width="40.30" height="2.20" fill="#7a6e5a" />
<rect x="474.90" y="485.55" width="40.30" height="5.75" fill="#e3e1dd" />
<rect x="476.50" y="490.00" width="0.80" height="1.30" fill="#444" />
<rect x="485.58" y="490.00" width="0.80" height="1.30" fill="#444" />
<rect x="494.65" y="490.00" width="0.80" height="1.30" fill="#444" />
<rect x="503.72" y="490.00" width="0.80" height="1.30" fill="#444" />
<rect x="512.80" y="490.00" width="0.80" height="1.30" fill="#444" />
<rect x="474.90" y="462.71" width="40.30" height="1.45" fill="#23922a" />
<rect x="474.90" y="465.61" width="40.30" height="1.45" fill="#23922a" />
<rect x="474.90" y="472.58" width="40.30" height="1.45" fill="#23922a" />
<rect x="474.90" y="475.48" width="40.30" height="1.45" fill="#23922a" />
<rect x="474.90" y="482.45" width="40.30" height="1.45" fill="#23922a" />
<rect x="474.90" y="485.35" width="40.30" height="1.45" fill="#23922a" />
</g>
<circle cx="483.30" cy="437.90" r="5.7" fill="none" stroke="#222" stroke-width="2.2" opacity="0.55"/>
<circle cx="483.30" cy="437.90" r="5.7" fill="none" stroke="#fff" stroke-width="1.2"/>
<text x="483.30" y="441.80" font-size="10.5" font-weight="normal" font-style="normal" text-anchor="middle" fill="#fff" stroke="#fff" stroke-width="0.45">6</text>
<rect x="523.10" y="429.30" width="41.50" height="62.30" fill="#000" />
<clipPath id="cl23"><rect x="523.10" y="429.30" width="41.50" height="62.30"/></clipPath><g clip-path="url(#cl23)">
<rect x="523.70" y="449.30" width="40.30" height="42.00" fill="#2a2a2c" />
<rect x="523.70" y="449.30" width="40.30" height="3.64" fill="#a09c92" />
<rect x="523.70" y="452.94" width="40.30" height="4.50" fill="#b1aea6" />
<polygon points="536.41,455.19 538.89,452.94 549.85,452.94 552.33,455.19 549.85,457.44 538.89,457.44" fill="#060606" />
<polygon points="523.70,452.94 530.14,452.94 532.61,455.19 530.14,457.44 523.70,457.44" fill="#161618" />
<polygon points="564.00,452.94 558.60,452.94 556.12,455.19 558.60,457.44 564.00,457.44" fill="#161618" />
<rect x="523.70" y="457.44" width="40.30" height="7.27" fill="#c3c0bb" />
<rect x="523.70" y="464.71" width="40.30" height="2.20" fill="#7a6e5a" />
<rect x="523.70" y="466.91" width="40.30" height="7.27" fill="#e3e1dd" />
<rect x="523.70" y="474.18" width="40.30" height="2.20" fill="#7a6e5a" />
<rect x="523.70" y="476.38" width="40.30" height="7.27" fill="#e3e1dd" />
<rect x="523.70" y="483.65" width="40.30" height="2.20" fill="#7a6e5a" />
<rect x="523.70" y="485.85" width="40.30" height="5.45" fill="#e3e1dd" />
<rect x="525.30" y="490.00" width="0.80" height="1.30" fill="#444" />
<rect x="534.38" y="490.00" width="0.80" height="1.30" fill="#444" />
<rect x="543.45" y="490.00" width="0.80" height="1.30" fill="#444" />
<rect x="552.52" y="490.00" width="0.80" height="1.30" fill="#444" />
<rect x="561.60" y="490.00" width="0.80" height="1.30" fill="#444" />
<rect x="523.70" y="452.34" width="19.34" height="1.45" fill="#23922a" />
<rect x="543.02" y="456.84" width="20.98" height="1.45" fill="#23922a" />
<rect x="523.70" y="463.81" width="40.30" height="1.45" fill="#23922a" />
<rect x="523.70" y="466.71" width="40.30" height="1.45" fill="#23922a" />
<rect x="523.70" y="473.28" width="40.30" height="1.45" fill="#23922a" />
<rect x="523.70" y="476.18" width="40.30" height="1.45" fill="#23922a" />
<rect x="523.70" y="482.75" width="40.30" height="1.45" fill="#23922a" />
<rect x="523.70" y="485.65" width="40.30" height="1.45" fill="#23922a" />
</g>
<circle cx="532.10" cy="437.90" r="5.7" fill="none" stroke="#222" stroke-width="2.2" opacity="0.55"/>
<circle cx="532.10" cy="437.90" r="5.7" fill="none" stroke="#fff" stroke-width="1.2"/>
<text x="532.10" y="441.80" font-size="10.5" font-weight="normal" font-style="normal" text-anchor="middle" fill="#fff" stroke="#fff" stroke-width="0.45">7</text>
<rect x="571.70" y="429.30" width="40.70" height="62.30" fill="#000" />
<clipPath id="cl24"><rect x="571.70" y="429.30" width="40.70" height="62.30"/></clipPath><g clip-path="url(#cl24)">
<rect x="572.30" y="451.70" width="39.50" height="39.60" fill="#2a2a2c" />
<rect x="572.30" y="451.70" width="39.50" height="3.62" fill="#a09c92" />
<rect x="572.30" y="455.32" width="39.50" height="2.20" fill="#7a6e5a" />
<rect x="572.30" y="457.52" width="39.50" height="7.25" fill="#e3e1dd" />
<rect x="572.30" y="464.77" width="39.50" height="2.20" fill="#7a6e5a" />
<rect x="572.30" y="466.97" width="39.50" height="7.25" fill="#e3e1dd" />
<rect x="572.30" y="474.22" width="39.50" height="2.20" fill="#7a6e5a" />
<rect x="572.30" y="476.42" width="39.50" height="7.25" fill="#e3e1dd" />
<rect x="572.30" y="483.66" width="39.50" height="2.20" fill="#7a6e5a" />
<rect x="572.30" y="485.86" width="39.50" height="5.44" fill="#e3e1dd" />
<rect x="573.90" y="490.00" width="0.80" height="1.30" fill="#444" />
<rect x="582.78" y="490.00" width="0.80" height="1.30" fill="#444" />
<rect x="591.65" y="490.00" width="0.80" height="1.30" fill="#444" />
<rect x="600.52" y="490.00" width="0.80" height="1.30" fill="#444" />
<rect x="609.40" y="490.00" width="0.80" height="1.30" fill="#444" />
<rect x="572.30" y="454.42" width="39.50" height="1.45" fill="#23922a" />
<rect x="572.30" y="457.32" width="39.50" height="1.45" fill="#23922a" />
<rect x="572.30" y="463.87" width="39.50" height="1.45" fill="#23922a" />
<rect x="572.30" y="466.77" width="39.50" height="1.45" fill="#23922a" />
<rect x="572.30" y="473.32" width="39.50" height="1.45" fill="#23922a" />
<rect x="572.30" y="476.22" width="39.50" height="1.45" fill="#23922a" />
<rect x="572.30" y="482.76" width="39.50" height="1.45" fill="#23922a" />
<rect x="572.30" y="485.66" width="39.50" height="1.45" fill="#23922a" />
</g>
<circle cx="580.70" cy="437.90" r="5.7" fill="none" stroke="#222" stroke-width="2.2" opacity="0.55"/>
<circle cx="580.70" cy="437.90" r="5.7" fill="none" stroke="#fff" stroke-width="1.2"/>
<text x="580.70" y="441.80" font-size="10.5" font-weight="normal" font-style="normal" text-anchor="middle" fill="#fff" stroke="#fff" stroke-width="0.45">8</text>
<rect x="423.70" y="531.40" width="141.10" height="133.20" fill="#000" />
<rect x="467.40" y="532.60" width="4.60" height="130.80" fill="#fff" />
<rect x="515.60" y="532.60" width="5.80" height="130.80" fill="#fff" />
<rect x="424.90" y="595.60" width="138.70" height="4.80" fill="#fff" />
<rect x="425.30" y="532.60" width="42.10" height="63.00" fill="#000" />
<clipPath id="cl25"><rect x="425.30" y="532.60" width="42.10" height="63.00"/></clipPath><g clip-path="url(#cl25)">
<rect x="425.80" y="533.90" width="41.10" height="61.70" fill="#3b404c" />
<polygon points="426.80,533.90 465.90,533.90 465.90,542.90 426.80,542.90" fill="#a19d93" />
<polygon points="426.80,542.60 465.90,542.60 465.90,544.70 426.80,544.70" fill="#d6d4cd" />
<polygon points="438.65,543.65 442.44,542.90 451.04,542.90 454.83,543.65 451.04,544.40 442.44,544.40" fill="#060606" />
<polygon points="426.80,542.90 433.06,542.90 436.85,543.65 433.06,544.40 426.80,544.40" fill="#141418" />
<polygon points="456.63,543.65 460.43,542.90 465.90,542.90 465.90,544.40 460.43,544.40" fill="#141418" />
<polygon points="426.80,544.40 465.90,544.40 465.90,553.20 426.80,553.20" fill="#a19d93" />
<polygon points="426.80,552.90 465.90,552.90 465.90,559.30 426.80,559.30" fill="#d6d4cd" />
<polygon points="438.65,556.10 442.44,553.20 451.04,553.20 454.83,556.10 451.04,559.00 442.44,559.00" fill="#060606" />
<polygon points="426.80,553.20 433.06,553.20 436.85,556.10 433.06,559.00 426.80,559.00" fill="#141418" />
<polygon points="456.63,556.10 460.43,553.20 465.90,553.20 465.90,559.00 460.43,559.00" fill="#141418" />
<polygon points="426.80,559.00 465.90,559.00 465.90,565.80 426.80,565.80" fill="#e9e8e4" />
<polygon points="426.80,565.50 465.90,565.50 465.90,572.80 426.80,572.80" fill="#d6d4cd" />
<polygon points="438.65,569.15 442.44,565.80 451.04,565.80 454.83,569.15 451.04,572.50 442.44,572.50" fill="#060606" />
<polygon points="426.80,565.80 433.06,565.80 436.85,569.15 433.06,572.50 426.80,572.50" fill="#141418" />
<polygon points="456.63,569.15 460.43,565.80 465.90,565.80 465.90,572.50 460.43,572.50" fill="#141418" />
<polygon points="426.80,572.50 465.90,572.50 465.90,582.20 426.80,582.20" fill="#e9e8e4" />
<polygon points="426.80,581.90 465.90,581.90 465.90,588.30 426.80,588.30" fill="#d6d4cd" />
<polygon points="438.65,585.10 442.44,582.20 451.04,582.20 454.83,585.10 451.04,588.00 442.44,588.00" fill="#060606" />
<polygon points="426.80,582.20 433.06,582.20 436.85,585.10 433.06,588.00 426.80,588.00" fill="#141418" />
<polygon points="456.63,585.10 460.43,582.20 465.90,582.20 465.90,588.00 460.43,588.00" fill="#141418" />
<polygon points="426.80,588.00 465.90,588.00 465.90,595.50 426.80,595.50" fill="#f1f1ef" />
</g>
<ellipse cx="454" cy="538.4" rx="11" ry="5.3" fill="none" stroke="#2a8a2a" stroke-width="1.3"/>
<circle cx="434.30" cy="541.20" r="5.7" fill="none" stroke="#222" stroke-width="2.2" opacity="0.55"/>
<circle cx="434.30" cy="541.20" r="5.7" fill="none" stroke="#fff" stroke-width="1.2"/>
<text x="434.30" y="545.10" font-size="10.5" font-weight="normal" font-style="normal" text-anchor="middle" fill="#fff" stroke="#fff" stroke-width="0.45">1</text>
<rect x="472.00" y="532.60" width="43.60" height="63.00" fill="#000" />
<clipPath id="cl26"><rect x="472.00" y="532.60" width="43.60" height="63.00"/></clipPath><g clip-path="url(#cl26)">
<rect x="472.50" y="537.00" width="42.60" height="58.60" fill="#3b404c" />
<polygon points="473.50,537.00 514.10,536.00 514.10,544.50 473.50,545.50" fill="#a19d93" />
<polygon points="473.50,545.20 514.10,544.20 514.10,542.30 473.50,547.30" fill="#d6d4cd" />
<polygon points="485.77,545.41 489.74,545.10 498.67,544.88 502.64,544.03 498.67,543.90 489.74,545.00" fill="#060606" />
<polygon points="473.50,545.50 480.00,545.34 483.97,545.41 480.00,546.20 473.50,547.00" fill="#141418" />
<polygon points="504.44,544.03 508.42,544.64 514.10,544.50 514.10,542.00 508.42,542.70" fill="#141418" />
<polygon points="473.50,547.00 514.10,542.00 514.10,551.00 473.50,556.00" fill="#e9e8e4" />
<polygon points="473.50,555.70 514.10,550.70 514.10,559.80 473.50,560.80" fill="#d6d4cd" />
<polygon points="485.77,557.41 489.74,554.00 498.67,552.90 502.64,556.03 498.67,559.88 489.74,560.10" fill="#060606" />
<polygon points="473.50,556.00 480.00,555.20 483.97,557.41 480.00,560.34 473.50,560.50" fill="#141418" />
<polygon points="504.44,556.03 508.42,551.70 514.10,551.00 514.10,559.50 508.42,559.64" fill="#141418" />
<polygon points="473.50,560.50 514.10,559.50 514.10,567.50 473.50,568.50" fill="#e9e8e4" />
<polygon points="473.50,568.20 514.10,567.20 514.10,573.80 473.50,573.80" fill="#d6d4cd" />
<polygon points="485.77,570.86 489.74,568.10 498.67,567.88 502.64,570.63 498.67,573.50 489.74,573.50" fill="#060606" />
<polygon points="473.50,568.50 480.00,568.34 483.97,570.86 480.00,573.50 473.50,573.50" fill="#141418" />
<polygon points="504.44,570.63 508.42,567.64 514.10,567.50 514.10,573.50 508.42,573.50" fill="#141418" />
<polygon points="473.50,573.50 514.10,573.50 514.10,581.50 473.50,581.50" fill="#f1f1ef" />
<polygon points="473.50,581.20 514.10,581.20 514.10,586.80 473.50,586.80" fill="#d6d4cd" />
<polygon points="485.77,584.00 489.74,581.50 498.67,581.50 502.64,584.00 498.67,586.50 489.74,586.50" fill="#060606" />
<polygon points="473.50,581.50 480.00,581.50 483.97,584.00 480.00,586.50 473.50,586.50" fill="#141418" />
<polygon points="504.44,584.00 508.42,581.50 514.10,581.50 514.10,586.50 508.42,586.50" fill="#141418" />
<polygon points="473.50,586.50 514.10,586.50 514.10,594.00 473.50,594.00" fill="#f1f1ef" />
</g>
<circle cx="481.00" cy="541.20" r="5.7" fill="none" stroke="#222" stroke-width="2.2" opacity="0.55"/>
<circle cx="481.00" cy="541.20" r="5.7" fill="none" stroke="#fff" stroke-width="1.2"/>
<text x="481.00" y="545.10" font-size="10.5" font-weight="normal" font-style="normal" text-anchor="middle" fill="#fff" stroke="#fff" stroke-width="0.45">2</text>
<rect x="521.40" y="532.60" width="42.10" height="63.00" fill="#000" />
<clipPath id="cl27"><rect x="521.40" y="532.60" width="42.10" height="63.00"/></clipPath><g clip-path="url(#cl27)">
<rect x="521.90" y="548.00" width="41.10" height="47.60" fill="#3b404c" />
<polygon points="522.90,548.00 562.00,549.50 562.00,556.50 522.90,555.00" fill="#a19d93" />
<polygon points="522.90,554.70 562.00,556.20 562.00,553.80 522.90,557.80" fill="#d6d4cd" />
<polygon points="534.75,555.90 538.54,555.60 547.14,555.93 550.93,555.33 547.14,555.02 538.54,555.90" fill="#060606" />
<polygon points="522.90,555.00 529.16,555.24 532.95,555.90 529.16,556.86 522.90,557.50" fill="#141418" />
<polygon points="552.73,555.33 556.53,556.29 562.00,556.50 562.00,553.50 556.53,554.06" fill="#141418" />
<polygon points="522.90,557.50 562.00,553.50 562.00,562.00 522.90,566.00" fill="#e9e8e4" />
<polygon points="522.90,565.70 562.00,561.70 562.00,567.30 522.90,569.30" fill="#d6d4cd" />
<polygon points="534.75,566.66 538.54,564.40 547.14,563.52 550.93,565.28 547.14,567.76 538.54,568.20" fill="#060606" />
<polygon points="522.90,566.00 529.16,565.36 532.95,566.66 529.16,568.68 522.90,569.00" fill="#141418" />
<polygon points="552.73,565.28 556.53,562.56 562.00,562.00 562.00,567.00 556.53,567.28" fill="#141418" />
<polygon points="522.90,569.00 562.00,567.00 562.00,575.50 522.90,577.50" fill="#e9e8e4" />
<polygon points="522.90,577.20 562.00,575.20 562.00,579.30 522.90,580.30" fill="#d6d4cd" />
<polygon points="534.75,578.33 538.54,576.70 547.14,576.26 550.93,577.64 547.14,579.38 538.54,579.60" fill="#060606" />
<polygon points="522.90,577.50 529.16,577.18 532.95,578.33 529.16,579.84 522.90,580.00" fill="#141418" />
<polygon points="552.73,577.64 556.53,575.78 562.00,575.50 562.00,579.00 556.53,579.14" fill="#141418" />
<polygon points="522.90,580.00 562.00,579.00 562.00,586.00 522.90,587.00" fill="#f1f1ef" />
<polygon points="522.90,586.70 562.00,585.70 562.00,589.80 522.90,589.80" fill="#d6d4cd" />
<polygon points="534.75,588.11 538.54,586.60 547.14,586.38 550.93,587.88 547.14,589.50 538.54,589.50" fill="#060606" />
<polygon points="522.90,587.00 529.16,586.84 532.95,588.11 529.16,589.50 522.90,589.50" fill="#141418" />
<polygon points="552.73,587.88 556.53,586.14 562.00,586.00 562.00,589.50 556.53,589.50" fill="#141418" />
<polygon points="522.90,589.50 562.00,589.50 562.00,594.50 522.90,594.50" fill="#f1f1ef" />
</g>
<ellipse cx="552.5" cy="576" rx="11" ry="5.5" fill="none" stroke="#2a8a2a" stroke-width="1.3"/>
<circle cx="530.40" cy="541.20" r="5.7" fill="none" stroke="#222" stroke-width="2.2" opacity="0.55"/>
<circle cx="530.40" cy="541.20" r="5.7" fill="none" stroke="#fff" stroke-width="1.2"/>
<text x="530.40" y="545.10" font-size="10.5" font-weight="normal" font-style="normal" text-anchor="middle" fill="#fff" stroke="#fff" stroke-width="0.45">3</text>
<rect x="425.30" y="600.40" width="42.10" height="63.00" fill="#000" />
<clipPath id="cl28"><rect x="425.30" y="600.40" width="42.10" height="63.00"/></clipPath><g clip-path="url(#cl28)">
<rect x="425.80" y="618.00" width="41.10" height="45.40" fill="#3b404c" />
<polygon points="426.80,618.00 465.90,619.00 465.90,625.00 426.80,624.00" fill="#a19d93" />
<polygon points="426.80,623.70 465.90,624.70 465.90,621.30 426.80,626.30" fill="#d6d4cd" />
<polygon points="438.65,624.44 442.44,624.40 451.04,624.62 454.83,623.52 451.04,622.90 442.44,624.00" fill="#060606" />
<polygon points="426.80,624.00 433.06,624.16 436.85,624.44 433.06,625.20 426.80,626.00" fill="#141418" />
<polygon points="456.63,623.52 460.43,624.86 465.90,625.00 465.90,621.00 460.43,621.70" fill="#141418" />
<polygon points="426.80,626.00 465.90,621.00 465.90,630.00 426.80,635.00" fill="#e9e8e4" />
<polygon points="426.80,634.70 465.90,629.70 465.90,635.30 426.80,637.30" fill="#d6d4cd" />
<polygon points="438.65,635.02 442.44,633.00 451.04,631.90 454.83,633.41 451.04,635.76 442.44,636.20" fill="#060606" />
<polygon points="426.80,635.00 433.06,634.20 436.85,635.02 433.06,636.68 426.80,637.00" fill="#141418" />
<polygon points="456.63,633.41 460.43,630.70 465.90,630.00 465.90,635.00 460.43,635.28" fill="#141418" />
<polygon points="426.80,637.00 465.90,635.00 465.90,643.50 426.80,645.50" fill="#e9e8e4" />
<polygon points="426.80,645.20 465.90,643.20 465.90,646.80 426.80,647.80" fill="#d6d4cd" />
<polygon points="438.65,646.08 442.44,644.70 451.04,644.26 454.83,645.39 451.04,646.88 442.44,647.10" fill="#060606" />
<polygon points="426.80,645.50 433.06,645.18 436.85,646.08 433.06,647.34 426.80,647.50" fill="#141418" />
<polygon points="456.63,645.39 460.43,643.78 465.90,643.50 465.90,646.50 460.43,646.64" fill="#141418" />
<polygon points="426.80,647.50 465.90,646.50 465.90,654.50 426.80,655.50" fill="#f1f1ef" />
<polygon points="426.80,655.20 465.90,654.20 465.90,657.80 426.80,657.80" fill="#d6d4cd" />
<polygon points="438.65,656.36 442.44,655.10 451.04,654.88 454.83,656.13 451.04,657.50 442.44,657.50" fill="#060606" />
<polygon points="426.80,655.50 433.06,655.34 436.85,656.36 433.06,657.50 426.80,657.50" fill="#141418" />
<polygon points="456.63,656.13 460.43,654.64 465.90,654.50 465.90,657.50 460.43,657.50" fill="#141418" />
<polygon points="426.80,657.50 465.90,657.50 465.90,663.50 426.80,663.50" fill="#f1f1ef" />
</g>
<circle cx="434.30" cy="609.00" r="5.7" fill="none" stroke="#222" stroke-width="2.2" opacity="0.55"/>
<circle cx="434.30" cy="609.00" r="5.7" fill="none" stroke="#fff" stroke-width="1.2"/>
<text x="434.30" y="612.90" font-size="10.5" font-weight="normal" font-style="normal" text-anchor="middle" fill="#fff" stroke="#fff" stroke-width="0.45">4</text>
<rect x="472.00" y="600.40" width="43.60" height="63.00" fill="#000" />
<clipPath id="cl29"><rect x="472.00" y="600.40" width="43.60" height="63.00"/></clipPath><g clip-path="url(#cl29)">
<rect x="472.50" y="623.00" width="42.60" height="40.40" fill="#3b404c" />
<polygon points="473.50,623.00 514.10,623.00 514.10,629.00 473.50,629.00" fill="#a19d93" />
<polygon points="473.50,628.70 514.10,628.70 514.10,626.80 473.50,630.80" fill="#d6d4cd" />
<polygon points="485.77,629.19 489.74,629.00 498.67,629.00 502.64,628.27 498.67,628.02 489.74,628.90" fill="#060606" />
<polygon points="473.50,629.00 480.00,629.00 483.97,629.19 480.00,629.86 473.50,630.50" fill="#141418" />
<polygon points="504.44,628.27 508.42,629.00 514.10,629.00 514.10,626.50 508.42,627.06" fill="#141418" />
<polygon points="473.50,630.50 514.10,626.50 514.10,634.50 473.50,638.50" fill="#e9e8e4" />
<polygon points="473.50,638.20 514.10,634.20 514.10,638.80 473.50,640.80" fill="#d6d4cd" />
<polygon points="485.77,638.66 489.74,636.90 498.67,636.02 502.64,637.28 498.67,639.26 489.74,639.70" fill="#060606" />
<polygon points="473.50,638.50 480.00,637.86 483.97,638.66 480.00,640.18 473.50,640.50" fill="#141418" />
<polygon points="504.44,637.28 508.42,635.06 514.10,634.50 514.10,638.50 508.42,638.78" fill="#141418" />
<polygon points="473.50,640.50 514.10,638.50 514.10,646.50 473.50,648.50" fill="#e9e8e4" />
<polygon points="473.50,648.20 514.10,646.20 514.10,649.60 473.50,650.60" fill="#d6d4cd" />
<polygon points="485.77,648.98 489.74,647.70 498.67,647.26 502.64,648.29 498.67,649.68 489.74,649.90" fill="#060606" />
<polygon points="473.50,648.50 480.00,648.18 483.97,648.98 480.00,650.14 473.50,650.30" fill="#141418" />
<polygon points="504.44,648.29 508.42,646.78 514.10,646.50 514.10,649.30 508.42,649.44" fill="#141418" />
<polygon points="473.50,650.30 514.10,649.30 514.10,656.80 473.50,657.80" fill="#f1f1ef" />
<polygon points="473.50,657.50 514.10,656.50 514.10,659.90 473.50,659.90" fill="#d6d4cd" />
<polygon points="485.77,658.56 489.74,657.40 498.67,657.18 502.64,658.33 498.67,659.60 489.74,659.60" fill="#060606" />
<polygon points="473.50,657.80 480.00,657.64 483.97,658.56 480.00,659.60 473.50,659.60" fill="#141418" />
<polygon points="504.44,658.33 508.42,656.94 514.10,656.80 514.10,659.60 508.42,659.60" fill="#141418" />
<polygon points="473.50,659.60 514.10,659.60 514.10,664.10 473.50,664.10" fill="#f1f1ef" />
</g>
<ellipse cx="501.4" cy="636.3" rx="12" ry="6" fill="none" stroke="#2a8a2a" stroke-width="1.3"/>
<circle cx="481.00" cy="609.00" r="5.7" fill="none" stroke="#222" stroke-width="2.2" opacity="0.55"/>
<circle cx="481.00" cy="609.00" r="5.7" fill="none" stroke="#fff" stroke-width="1.2"/>
<text x="481.00" y="612.90" font-size="10.5" font-weight="normal" font-style="normal" text-anchor="middle" fill="#fff" stroke="#fff" stroke-width="0.45">5</text>
<rect x="521.40" y="600.40" width="42.10" height="63.00" fill="#000" />
<clipPath id="cl30"><rect x="521.40" y="600.40" width="42.10" height="63.00"/></clipPath><g clip-path="url(#cl30)">
<rect x="521.90" y="627.80" width="41.10" height="35.60" fill="#3b404c" />
<polygon points="522.90,627.80 562.00,628.80 562.00,634.30 522.90,633.30" fill="#a19d93" />
<polygon points="522.90,633.00 562.00,634.00 562.00,633.10 522.90,635.10" fill="#d6d4cd" />
<polygon points="534.75,633.91 538.54,633.70 547.14,633.92 550.93,633.68 547.14,633.56 538.54,634.00" fill="#060606" />
<polygon points="522.90,633.30 529.16,633.46 532.95,633.91 529.16,634.48 522.90,634.80" fill="#141418" />
<polygon points="552.73,633.68 556.53,634.16 562.00,634.30 562.00,632.80 556.53,633.08" fill="#141418" />
<polygon points="522.90,634.80 562.00,632.80 562.00,640.30 522.90,642.30" fill="#e9e8e4" />
<polygon points="522.90,642.00 562.00,640.00 562.00,643.10 522.90,644.10" fill="#d6d4cd" />
<polygon points="534.75,642.63 538.54,641.50 547.14,641.06 550.93,641.94 547.14,643.18 538.54,643.40" fill="#060606" />
<polygon points="522.90,642.30 529.16,641.98 532.95,642.63 529.16,643.64 522.90,643.80" fill="#141418" />
<polygon points="552.73,641.94 556.53,640.58 562.00,640.30 562.00,642.80 556.53,642.94" fill="#141418" />
<polygon points="522.90,643.80 562.00,642.80 562.00,650.30 522.90,651.30" fill="#e9e8e4" />
<polygon points="522.90,651.00 562.00,650.00 562.00,652.10 522.90,653.10" fill="#d6d4cd" />
<polygon points="534.75,651.77 538.54,650.90 547.14,650.68 550.93,651.31 547.14,652.18 538.54,652.40" fill="#060606" />
<polygon points="522.90,651.30 529.16,651.14 532.95,651.77 529.16,652.64 522.90,652.80" fill="#141418" />
<polygon points="552.73,651.31 556.53,650.44 562.00,650.30 562.00,651.80 556.53,651.94" fill="#141418" />
<polygon points="522.90,652.80 562.00,651.80 562.00,658.80 522.90,659.80" fill="#f1f1ef" />
<polygon points="522.90,659.50 562.00,658.50 562.00,661.60 522.90,661.60" fill="#d6d4cd" />
<polygon points="534.75,660.41 538.54,659.40 547.14,659.18 550.93,660.18 547.14,661.30 538.54,661.30" fill="#060606" />
<polygon points="522.90,659.80 529.16,659.64 532.95,660.41 529.16,661.30 522.90,661.30" fill="#141418" />
<polygon points="552.73,660.18 556.53,658.94 562.00,658.80 562.00,661.30 556.53,661.30" fill="#141418" />
<polygon points="522.90,661.30 562.00,661.30 562.00,665.80 522.90,665.80" fill="#f1f1ef" />
</g>
<ellipse cx="550" cy="653.8" rx="11.5" ry="6" fill="none" stroke="#2a8a2a" stroke-width="1.3"/>
<circle cx="530.40" cy="609.00" r="5.7" fill="none" stroke="#222" stroke-width="2.2" opacity="0.55"/>
<circle cx="530.40" cy="609.00" r="5.7" fill="none" stroke="#fff" stroke-width="1.2"/>
<text x="530.40" y="612.90" font-size="10.5" font-weight="normal" font-style="normal" text-anchor="middle" fill="#fff" stroke="#fff" stroke-width="0.45">6</text>
<text x="1.50" y="362.70" font-size="12.5" font-weight="bold" font-style="normal" text-anchor="start" fill="#000" >(C)</text>
<rect x="66.50" y="480.00" width="109.00" height="176.00" fill="url(#cbg)" />
<rect x="116.50" y="407.00" width="10.00" height="20.00" fill="#7f8ea2" />
<rect x="117.00" y="466.00" width="9.00" height="13.00" fill="#7c8cb0" />
<rect x="117.00" y="518.00" width="9.00" height="10.00" fill="#79a59a" />
<rect x="117.00" y="566.00" width="9.00" height="8.00" fill="#8db07e" />
<rect x="117.00" y="610.00" width="9.00" height="6.00" fill="#9cb67a" />
<polygon points="79.60,614.30 119.30,630.00 119.30,644.40 79.60,626.30" fill="#9db675" stroke="#9db675" stroke-width="0.4"/>
<polygon points="119.30,630.00 165.50,615.50 165.50,627.50 119.30,644.40" fill="#93ab6c" stroke="#93ab6c" stroke-width="0.4"/>
<rect x="86.73" y="628.78" width="3.20" height="3.50" fill="#7f8f60" />
<rect x="105.00" y="637.11" width="3.20" height="3.50" fill="#7f8f60" />
<rect x="150.04" y="630.35" width="3.20" height="3.00" fill="#7f8f60" />
<polygon points="79.60,614.30 126.20,604.00 165.50,615.50 119.30,630.00" fill="#a3bd7c" stroke="#a3bd7c" stroke-width="0.4"/>
<polygon points="90.79,614.73 125.28,607.11 122.65,617.45" fill="#5a6b44" stroke="#5a6b44" stroke-width="0.3"/>
<polygon points="125.28,607.11 154.36,615.62 122.65,617.45" fill="#66774e" stroke="#66774e" stroke-width="0.3"/>
<polygon points="154.36,615.62 120.17,626.35 122.65,617.45" fill="#5a6b44" stroke="#5a6b44" stroke-width="0.3"/>
<polygon points="120.17,626.35 90.79,614.73 122.65,617.45" fill="#66774e" stroke="#66774e" stroke-width="0.3"/>
<path d="M92.79,614.73 L122.65,617.45 L152.36,615.62" stroke="#8a9e68" stroke-width="2.6" fill="none" opacity="0.8"/>
<polygon points="115.67,626.85 124.67,626.85 127.78,607.11 122.78,607.11" fill="#8a9e68" opacity="0.9"/>
<polygon points="78.20,581.10 119.30,599.14 119.30,617.28 78.20,597.30" fill="#abbb84" stroke="#abbb84" stroke-width="0.4"/>
<polygon points="119.30,599.14 166.70,583.00 166.70,599.20 119.30,617.28" fill="#a0b07a" stroke="#a0b07a" stroke-width="0.4"/>
<polygon points="78.20,571.60 119.30,588.50 119.30,599.14 78.20,581.10" fill="#86b876" stroke="#86b876" stroke-width="0.4"/>
<polygon points="119.30,588.50 166.70,573.50 166.70,583.00 119.30,599.14" fill="#7cad6c" stroke="#7cad6c" stroke-width="0.4"/>
<polygon points="78.20,571.60 126.20,560.50 166.70,573.50 119.30,588.50" fill="#8abd7b" stroke="#8abd7b" stroke-width="0.4"/>
<polygon points="89.74,572.10 125.26,563.89 122.60,575.02" fill="#526c49" stroke="#526c49" stroke-width="0.3"/>
<polygon points="125.26,563.89 155.23,573.51 122.60,575.02" fill="#5f7a56" stroke="#5f7a56" stroke-width="0.3"/>
<polygon points="155.23,573.51 120.16,584.61 122.60,575.02" fill="#526c49" stroke="#526c49" stroke-width="0.3"/>
<polygon points="120.16,584.61 89.74,572.10 122.60,575.02" fill="#5f7a56" stroke="#5f7a56" stroke-width="0.3"/>
<path d="M91.74,572.10 L122.60,575.02 L153.23,573.51" stroke="#7b9c6a" stroke-width="2.6" fill="none" opacity="0.8"/>
<polygon points="115.66,585.11 124.66,585.11 127.76,563.89 122.76,563.89" fill="#7b9c6a" opacity="0.9"/>
<path d="M88.47,585.61 l0,2.8 l1.6,0.9" stroke="#55657a" stroke-width="0.7" fill="none"/>
<path d="M107.79,594.09 l0,2.8 l1.6,0.9" stroke="#55657a" stroke-width="0.7" fill="none"/>
<polygon points="143.95,593.20 147.35,592.40 147.35,596.20 143.95,597.00" fill="#5cc3f2" />
<polygon points="77.30,537.80 119.30,555.84 119.30,572.04 77.30,552.80" fill="#a3c08d" stroke="#a3c08d" stroke-width="0.4"/>
<polygon points="119.30,555.84 167.80,539.40 167.80,554.40 119.30,572.04" fill="#98b582" stroke="#98b582" stroke-width="0.4"/>
<polygon points="77.30,527.30 119.30,544.50 119.30,555.84 77.30,537.80" fill="#73ac9d" stroke="#73ac9d" stroke-width="0.4"/>
<polygon points="119.30,544.50 167.80,528.90 167.80,539.40 119.30,555.84" fill="#6ba394" stroke="#6ba394" stroke-width="0.4"/>
<polygon points="77.30,527.30 126.20,515.00 167.80,528.90 119.30,544.50" fill="#78b1a3" stroke="#78b1a3" stroke-width="0.4"/>
<polygon points="89.09,527.72 125.28,518.62 122.65,530.42" fill="#4d6962" stroke="#4d6962" stroke-width="0.3"/>
<polygon points="125.28,518.62 156.06,528.91 122.65,530.42" fill="#5a766f" stroke="#5a766f" stroke-width="0.3"/>
<polygon points="156.06,528.91 120.17,540.45 122.65,530.42" fill="#4d6962" stroke="#4d6962" stroke-width="0.3"/>
<polygon points="120.17,540.45 89.09,527.72 122.65,530.42" fill="#5a766f" stroke="#5a766f" stroke-width="0.3"/>
<path d="M91.09,527.72 L122.65,530.42 L154.06,528.91" stroke="#73988a" stroke-width="2.6" fill="none" opacity="0.8"/>
<polygon points="115.67,540.95 124.67,540.95 127.78,518.62 122.78,518.62" fill="#73988a" opacity="0.9"/>
<path d="M87.80,542.31 l0,2.8 l1.6,0.9" stroke="#55657a" stroke-width="0.7" fill="none"/>
<path d="M107.54,550.79 l0,2.8 l1.6,0.9" stroke="#55657a" stroke-width="0.7" fill="none"/>
<polygon points="144.52,549.89 147.92,549.09 147.92,552.89 144.52,553.69" fill="#5cc3f2" />
<polygon points="76.10,488.50 118.50,503.81 118.50,520.29 76.10,504.50" fill="#7eafa1" stroke="#7eafa1" stroke-width="0.4"/>
<polygon points="118.50,503.81 169.10,489.60 169.10,505.60 118.50,520.29" fill="#75a595" stroke="#75a595" stroke-width="0.4"/>
<polygon points="76.10,478.00 118.50,493.00 118.50,503.81 76.10,488.50" fill="#6d85c5" stroke="#6d85c5" stroke-width="0.4"/>
<polygon points="118.50,493.00 169.10,479.10 169.10,489.60 118.50,503.81" fill="#647bbb" stroke="#647bbb" stroke-width="0.4"/>
<polygon points="76.10,478.00 124.90,466.60 169.10,479.10 118.50,493.00" fill="#6f87c7" stroke="#6f87c7" stroke-width="0.4"/>
<polygon points="88.07,478.31 124.19,469.87 122.15,480.68" fill="#4c5f84" stroke="#4c5f84" stroke-width="0.3"/>
<polygon points="124.19,469.87 156.89,479.12 122.15,480.68" fill="#576b90" stroke="#576b90" stroke-width="0.3"/>
<polygon points="156.89,479.12 119.45,489.41 122.15,480.68" fill="#4c5f84" stroke="#4c5f84" stroke-width="0.3"/>
<polygon points="119.45,489.41 88.07,478.31 122.15,480.68" fill="#576b90" stroke="#576b90" stroke-width="0.3"/>
<path d="M90.07,478.31 L122.15,480.68 L154.89,479.12" stroke="#6a80b0" stroke-width="2.6" fill="none" opacity="0.8"/>
<polygon points="114.95,489.91 123.95,489.91 126.69,469.87 121.69,469.87" fill="#6a80b0" opacity="0.9"/>
<path d="M86.70,492.33 l0,2.8 l1.6,0.9" stroke="#55657a" stroke-width="0.7" fill="none"/>
<path d="M106.63,499.53 l0,2.8 l1.6,0.9" stroke="#55657a" stroke-width="0.7" fill="none"/>
<polygon points="144.81,499.27 148.21,498.47 148.21,502.27 144.81,503.07" fill="#5cc3f2" />
<polygon points="73.80,437.40 118.00,452.00 118.00,467.50 73.80,452.90" fill="#7a8bbf" stroke="#7a8bbf" stroke-width="0.4"/>
<polygon points="118.00,452.00 170.30,438.50 170.30,454.00 118.00,467.50" fill="#7182b6" stroke="#7182b6" stroke-width="0.4"/>
<polygon points="73.80,426.90 118.00,441.50 118.00,452.00 73.80,437.40" fill="#5996d4" stroke="#5996d4" stroke-width="0.4"/>
<polygon points="118.00,441.50 170.30,428.00 170.30,438.50 118.00,452.00" fill="#5290ce" stroke="#5290ce" stroke-width="0.4"/>
<polygon points="73.80,426.90 126.00,415.60 170.30,428.00 118.00,441.50" fill="#5c9bd7" stroke="#5c9bd7" stroke-width="0.4"/>
<polygon points="86.34,427.19 124.97,418.82 122.03,429.50" fill="#4b678a" stroke="#4b678a" stroke-width="0.3"/>
<polygon points="124.97,418.82 157.75,428.00 122.03,429.50" fill="#56759a" stroke="#56759a" stroke-width="0.3"/>
<polygon points="157.75,428.00 119.05,437.99 122.03,429.50" fill="#4b678a" stroke="#4b678a" stroke-width="0.3"/>
<polygon points="119.05,437.99 86.34,427.19 122.03,429.50" fill="#56759a" stroke="#56759a" stroke-width="0.3"/>
<path d="M88.34,427.19 L122.03,429.50 L155.75,428.00" stroke="#6590c0" stroke-width="2.6" fill="none" opacity="0.8"/>
<polygon points="114.55,438.49 123.55,438.49 127.47,418.82 122.47,418.82" fill="#6590c0" opacity="0.9"/>
<path d="M84.85,441.05 l0,2.8 l1.6,0.9" stroke="#55657a" stroke-width="0.7" fill="none"/>
<path d="M105.62,447.91 l0,2.8 l1.6,0.9" stroke="#55657a" stroke-width="0.7" fill="none"/>
<polygon points="145.20,447.98 148.60,447.18 148.60,450.98 145.20,451.78" fill="#5cc3f2" />
<polygon points="72.70,382.70 118.00,396.30 118.00,410.30 72.70,396.70" fill="#5b99d6" stroke="#5b99d6" stroke-width="0.4"/>
<polygon points="118.00,396.30 172.50,383.80 172.50,397.80 118.00,410.30" fill="#5490cf" stroke="#5490cf" stroke-width="0.4"/>
<polygon points="72.70,382.70 125.00,372.50 172.50,383.80 118.00,396.30" fill="#63a2dd" stroke="#63a2dd" stroke-width="0.4"/>
<path d="M98.85,377.60 L145.25,390.05 M95.35,389.50 L148.75,378.15" stroke="#4f8dcc" stroke-width="2.2" fill="none"/>
<path d="M99.35,378.80 L145.75,391.25 M96.35,390.30 L149.75,378.95" stroke="#6aa8e0" stroke-width="0.8" fill="none"/>
<polygon points="84.99,389.98 87.59,389.98 86.29,387.38" fill="#2a4058" />
<polygon points="99.49,394.33 102.09,394.33 100.79,391.73" fill="#2a4058" />
<polygon points="67.81,394.59 46.97,408.26 45.43,405.92 42.10,413.60 50.48,413.61 48.94,411.27 69.79,397.61" fill="#5a9ad6" />
<polygon points="69.06,442.73 48.07,457.59 46.46,455.30 43.40,463.10 51.77,462.81 50.15,460.52 71.14,445.67" fill="#6d80bf" />
<polygon points="68.78,490.21 47.26,504.96 45.68,502.65 42.50,510.40 50.87,510.24 49.29,507.93 70.82,493.19" fill="#7fb1a2" />
<polygon points="68.78,539.52 47.24,554.35 45.66,552.04 42.50,559.80 50.87,559.62 49.29,557.31 70.82,542.48" fill="#96bb86" />
<polygon points="68.78,588.91 47.26,603.66 45.68,601.35 42.50,609.10 50.87,608.94 49.29,606.63 70.82,591.89" fill="#a5bd82" />
<text x="33.30" y="418.80" font-size="12.5" font-weight="normal" font-style="normal" text-anchor="middle" fill="#5a9ad6" >a</text>
<text x="33.30" y="467.00" font-size="12.5" font-weight="normal" font-style="normal" text-anchor="middle" fill="#6d80bf" >b</text>
<text x="33.50" y="514.50" font-size="12.5" font-weight="normal" font-style="normal" text-anchor="middle" fill="#7fb1a2" >c</text>
<text x="33.50" y="565.00" font-size="12.5" font-weight="normal" font-style="normal" text-anchor="middle" fill="#96bb86" >d</text>
<text x="33.50" y="615.50" font-size="12.5" font-weight="normal" font-style="normal" text-anchor="middle" fill="#a5bd82" >e</text>
<circle cx="33" cy="624.4" r="0.8" fill="#a5bd82"/>
<circle cx="33" cy="632.3" r="0.8" fill="#a5bd82"/>
<circle cx="33" cy="639.8" r="0.8" fill="#a5bd82"/>
</svg></body></html>
